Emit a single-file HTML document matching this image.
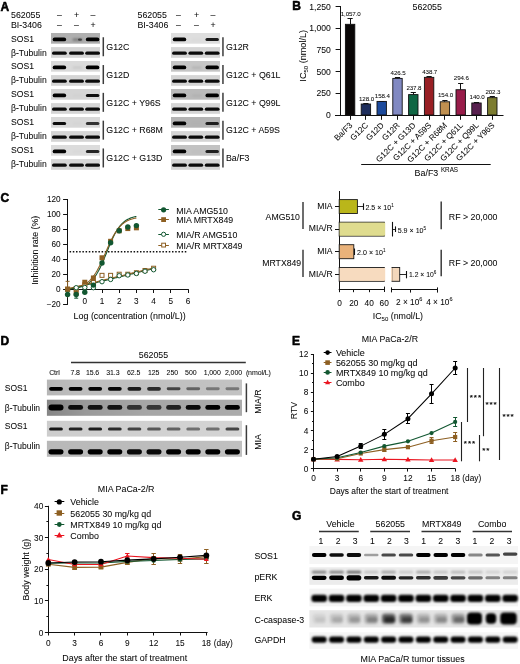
<!DOCTYPE html>
<html><head><meta charset="utf-8"><title>Figure</title>
<style>html,body{margin:0;padding:0;background:#fff;} svg{display:block;filter:blur(0.3px);} text{stroke:#080808;stroke-width:0.05px;stroke-linejoin:round;}</style>
</head><body>
<svg width="520" height="664" viewBox="0 0 520 664" font-family='"Liberation Sans", Arial, Helvetica, sans-serif'><defs><filter id="b1" x="-50%" y="-100%" width="200%" height="300%"><feGaussianBlur stdDeviation="0.1"/></filter><filter id="b2" x="-50%" y="-100%" width="200%" height="300%"><feGaussianBlur stdDeviation="0.2"/></filter><filter id="b3" x="-50%" y="-100%" width="200%" height="300%"><feGaussianBlur stdDeviation="0.3"/></filter><filter id="b4" x="-50%" y="-100%" width="200%" height="300%"><feGaussianBlur stdDeviation="0.4"/></filter><filter id="b5" x="-50%" y="-100%" width="200%" height="300%"><feGaussianBlur stdDeviation="0.5"/></filter><filter id="b6" x="-50%" y="-100%" width="200%" height="300%"><feGaussianBlur stdDeviation="0.6"/></filter><filter id="b7" x="-50%" y="-100%" width="200%" height="300%"><feGaussianBlur stdDeviation="0.7"/></filter><filter id="b8" x="-50%" y="-100%" width="200%" height="300%"><feGaussianBlur stdDeviation="0.8"/></filter><filter id="b9" x="-50%" y="-100%" width="200%" height="300%"><feGaussianBlur stdDeviation="0.9"/></filter><filter id="b10" x="-50%" y="-100%" width="200%" height="300%"><feGaussianBlur stdDeviation="1.0"/></filter><filter id="b11" x="-50%" y="-100%" width="200%" height="300%"><feGaussianBlur stdDeviation="1.1"/></filter><filter id="b12" x="-50%" y="-100%" width="200%" height="300%"><feGaussianBlur stdDeviation="1.2"/></filter><filter id="b13" x="-50%" y="-100%" width="200%" height="300%"><feGaussianBlur stdDeviation="1.3"/></filter><filter id="b14" x="-50%" y="-100%" width="200%" height="300%"><feGaussianBlur stdDeviation="1.4"/></filter><filter id="b15" x="-50%" y="-100%" width="200%" height="300%"><feGaussianBlur stdDeviation="1.5"/></filter><filter id="b16" x="-50%" y="-100%" width="200%" height="300%"><feGaussianBlur stdDeviation="1.6"/></filter><filter id="b17" x="-50%" y="-100%" width="200%" height="300%"><feGaussianBlur stdDeviation="1.7"/></filter><filter id="b18" x="-50%" y="-100%" width="200%" height="300%"><feGaussianBlur stdDeviation="1.8"/></filter><filter id="b19" x="-50%" y="-100%" width="200%" height="300%"><feGaussianBlur stdDeviation="1.9"/></filter><filter id="b20" x="-50%" y="-100%" width="200%" height="300%"><feGaussianBlur stdDeviation="2.0"/></filter><filter id="b21" x="-50%" y="-100%" width="200%" height="300%"><feGaussianBlur stdDeviation="2.1"/></filter><filter id="b22" x="-50%" y="-100%" width="200%" height="300%"><feGaussianBlur stdDeviation="2.2"/></filter><filter id="b23" x="-50%" y="-100%" width="200%" height="300%"><feGaussianBlur stdDeviation="2.3"/></filter><filter id="b24" x="-50%" y="-100%" width="200%" height="300%"><feGaussianBlur stdDeviation="2.4"/></filter><filter id="b25" x="-50%" y="-100%" width="200%" height="300%"><feGaussianBlur stdDeviation="2.5"/></filter><filter id="b26" x="-50%" y="-100%" width="200%" height="300%"><feGaussianBlur stdDeviation="2.6"/></filter><filter id="b27" x="-50%" y="-100%" width="200%" height="300%"><feGaussianBlur stdDeviation="2.7"/></filter><filter id="b28" x="-50%" y="-100%" width="200%" height="300%"><feGaussianBlur stdDeviation="2.8"/></filter><filter id="b29" x="-50%" y="-100%" width="200%" height="300%"><feGaussianBlur stdDeviation="2.9"/></filter><filter id="b30" x="-50%" y="-100%" width="200%" height="300%"><feGaussianBlur stdDeviation="3.0"/></filter></defs><text x="0.60" y="10.60" font-size="12" font-weight="bold" fill="#000" style="stroke:#000;stroke-width:0.55px">A</text>
<text x="11.00" y="17.50" font-size="8.8" fill="#080808">562055</text>
<text x="11.00" y="27.50" font-size="8.8" fill="#080808">BI-3406</text>
<text x="137.50" y="17.50" font-size="8.8" fill="#080808">562055</text>
<text x="137.50" y="27.50" font-size="8.8" fill="#080808">BI-3406</text>
<text x="59.40" y="17.60" font-size="8.8" text-anchor="middle" fill="#080808">–</text>
<text x="76.50" y="17.60" font-size="8.8" text-anchor="middle" fill="#080808">+</text>
<text x="93.00" y="17.60" font-size="8.8" text-anchor="middle" fill="#080808">–</text>
<text x="59.40" y="27.90" font-size="8.8" text-anchor="middle" fill="#080808">–</text>
<text x="76.50" y="27.90" font-size="8.8" text-anchor="middle" fill="#080808">–</text>
<text x="93.00" y="27.90" font-size="8.8" text-anchor="middle" fill="#080808">+</text>
<text x="178.50" y="17.60" font-size="8.8" text-anchor="middle" fill="#080808">–</text>
<text x="196.50" y="17.60" font-size="8.8" text-anchor="middle" fill="#080808">+</text>
<text x="213.00" y="17.60" font-size="8.8" text-anchor="middle" fill="#080808">–</text>
<text x="178.50" y="27.90" font-size="8.8" text-anchor="middle" fill="#080808">–</text>
<text x="196.50" y="27.90" font-size="8.8" text-anchor="middle" fill="#080808">–</text>
<text x="213.00" y="27.90" font-size="8.8" text-anchor="middle" fill="#080808">+</text>
<rect x="51.00" y="33.00" width="49.00" height="10.70" fill="#afafaf"/>
<rect x="51.00" y="47.10" width="49.00" height="10.70" fill="#d5d5d5"/>
<rect x="52.65" y="37.45" width="13.50" height="3.90" rx="1.95" fill="#000" fill-opacity="1.00" filter="url(#b6)"/>
<rect x="52.00" y="51.55" width="14.80" height="3.30" rx="1.65" fill="#000" fill-opacity="0.95" filter="url(#b6)"/>
<rect x="72.50" y="38.40" width="10.00" height="2.40" rx="1.20" fill="#000" fill-opacity="0.35" filter="url(#b8)"/>
<rect x="78.00" y="38.40" width="4.00" height="2.40" rx="1.20" fill="#000" fill-opacity="0.50" filter="url(#b7)"/>
<rect x="69.10" y="51.55" width="14.80" height="3.30" rx="1.65" fill="#000" fill-opacity="0.95" filter="url(#b6)"/>
<rect x="85.85" y="37.45" width="13.50" height="3.90" rx="1.95" fill="#000" fill-opacity="1.00" filter="url(#b6)"/>
<rect x="85.20" y="51.55" width="14.80" height="3.30" rx="1.65" fill="#000" fill-opacity="0.95" filter="url(#b6)"/>
<text x="11.00" y="41.50" font-size="8.6" fill="#080808">SOS1</text>
<text x="11.00" y="55.60" font-size="8.6" fill="#080808">β-Tubulin</text>
<line x1="103.30" y1="37.25" x2="103.30" y2="56.25" stroke="#3c3c3c" stroke-width="1.5"/>
<text x="106.30" y="50.00" font-size="8.8" fill="#080808">G12C</text>
<rect x="51.00" y="61.00" width="49.00" height="10.70" fill="#dadada"/>
<rect x="51.00" y="75.10" width="49.00" height="10.70" fill="#d5d5d5"/>
<rect x="52.65" y="65.45" width="13.50" height="3.90" rx="1.95" fill="#000" fill-opacity="1.00" filter="url(#b6)"/>
<rect x="52.00" y="79.55" width="14.80" height="3.30" rx="1.65" fill="#000" fill-opacity="0.95" filter="url(#b6)"/>
<rect x="72.50" y="66.40" width="10.00" height="2.40" rx="1.20" fill="#000" fill-opacity="0.08" filter="url(#b8)"/>
<rect x="69.10" y="79.55" width="14.80" height="3.30" rx="1.65" fill="#000" fill-opacity="0.95" filter="url(#b6)"/>
<rect x="85.85" y="65.45" width="13.50" height="3.90" rx="1.95" fill="#000" fill-opacity="1.00" filter="url(#b6)"/>
<rect x="85.20" y="79.55" width="14.80" height="3.30" rx="1.65" fill="#000" fill-opacity="0.95" filter="url(#b6)"/>
<text x="11.00" y="69.30" font-size="8.6" fill="#080808">SOS1</text>
<text x="11.00" y="83.40" font-size="8.6" fill="#080808">β-Tubulin</text>
<line x1="103.30" y1="65.05" x2="103.30" y2="84.05" stroke="#3c3c3c" stroke-width="1.5"/>
<text x="106.30" y="77.80" font-size="8.8" fill="#080808">G12D</text>
<rect x="51.00" y="89.00" width="49.00" height="10.70" fill="#d5d5d5"/>
<rect x="51.00" y="103.10" width="49.00" height="10.70" fill="#d5d5d5"/>
<rect x="52.65" y="93.45" width="13.50" height="3.90" rx="1.95" fill="#000" fill-opacity="0.99" filter="url(#b6)"/>
<rect x="52.00" y="107.55" width="14.80" height="3.30" rx="1.65" fill="#000" fill-opacity="0.95" filter="url(#b6)"/>
<rect x="72.50" y="94.40" width="10.00" height="2.40" rx="1.20" fill="#000" fill-opacity="0.02" filter="url(#b8)"/>
<rect x="69.10" y="107.55" width="14.80" height="3.30" rx="1.65" fill="#000" fill-opacity="0.95" filter="url(#b6)"/>
<rect x="85.85" y="93.90" width="13.50" height="3.00" rx="1.50" fill="#000" fill-opacity="0.94" filter="url(#b6)"/>
<rect x="85.20" y="107.55" width="14.80" height="3.30" rx="1.65" fill="#000" fill-opacity="0.95" filter="url(#b6)"/>
<text x="11.00" y="97.10" font-size="8.6" fill="#080808">SOS1</text>
<text x="11.00" y="111.20" font-size="8.6" fill="#080808">β-Tubulin</text>
<line x1="103.30" y1="92.85" x2="103.30" y2="111.85" stroke="#3c3c3c" stroke-width="1.5"/>
<text x="106.30" y="105.60" font-size="8.8" fill="#080808">G12C + Y96S</text>
<rect x="51.00" y="117.00" width="49.00" height="10.70" fill="#d8d8d8"/>
<rect x="51.00" y="131.10" width="49.00" height="10.70" fill="#d5d5d5"/>
<rect x="52.65" y="121.90" width="13.50" height="3.00" rx="1.50" fill="#000" fill-opacity="0.94" filter="url(#b6)"/>
<rect x="52.00" y="135.55" width="14.80" height="3.30" rx="1.65" fill="#000" fill-opacity="0.95" filter="url(#b6)"/>
<rect x="72.50" y="122.40" width="10.00" height="2.40" rx="1.20" fill="#000" fill-opacity="0.02" filter="url(#b8)"/>
<rect x="69.10" y="135.55" width="14.80" height="3.30" rx="1.65" fill="#000" fill-opacity="0.95" filter="url(#b6)"/>
<rect x="85.85" y="121.90" width="13.50" height="3.00" rx="1.50" fill="#000" fill-opacity="0.77" filter="url(#b6)"/>
<rect x="85.20" y="135.55" width="14.80" height="3.30" rx="1.65" fill="#000" fill-opacity="0.95" filter="url(#b6)"/>
<text x="11.00" y="124.90" font-size="8.6" fill="#080808">SOS1</text>
<text x="11.00" y="139.00" font-size="8.6" fill="#080808">β-Tubulin</text>
<line x1="103.30" y1="120.65" x2="103.30" y2="139.65" stroke="#3c3c3c" stroke-width="1.5"/>
<text x="106.30" y="133.40" font-size="8.8" fill="#080808">G12C + R68M</text>
<rect x="51.00" y="145.00" width="49.00" height="10.70" fill="#dcdcdc"/>
<rect x="51.00" y="159.10" width="49.00" height="10.70" fill="#d5d5d5"/>
<rect x="52.65" y="149.45" width="13.50" height="3.90" rx="1.95" fill="#000" fill-opacity="0.99" filter="url(#b6)"/>
<rect x="52.00" y="163.55" width="14.80" height="3.30" rx="1.65" fill="#000" fill-opacity="0.95" filter="url(#b6)"/>
<rect x="72.50" y="150.40" width="10.00" height="2.40" rx="1.20" fill="#000" fill-opacity="0.02" filter="url(#b8)"/>
<rect x="69.10" y="163.55" width="14.80" height="3.30" rx="1.65" fill="#000" fill-opacity="0.95" filter="url(#b6)"/>
<rect x="85.85" y="149.90" width="13.50" height="3.00" rx="1.50" fill="#000" fill-opacity="0.83" filter="url(#b6)"/>
<rect x="85.20" y="163.55" width="14.80" height="3.30" rx="1.65" fill="#000" fill-opacity="0.95" filter="url(#b6)"/>
<text x="11.00" y="152.70" font-size="8.6" fill="#080808">SOS1</text>
<text x="11.00" y="166.80" font-size="8.6" fill="#080808">β-Tubulin</text>
<line x1="103.30" y1="148.45" x2="103.30" y2="167.45" stroke="#3c3c3c" stroke-width="1.5"/>
<text x="106.30" y="161.20" font-size="8.8" fill="#080808">G12C + G13D</text>
<rect x="171.00" y="33.00" width="49.00" height="10.70" fill="#dedede"/>
<rect x="171.00" y="47.10" width="49.00" height="10.70" fill="#d5d5d5"/>
<rect x="172.75" y="37.45" width="13.50" height="3.90" rx="1.95" fill="#000" fill-opacity="0.99" filter="url(#b6)"/>
<rect x="172.10" y="51.55" width="14.80" height="3.30" rx="1.65" fill="#000" fill-opacity="0.95" filter="url(#b6)"/>
<rect x="191.80" y="38.40" width="10.00" height="2.40" rx="1.20" fill="#000" fill-opacity="0.02" filter="url(#b8)"/>
<rect x="188.40" y="51.55" width="14.80" height="3.30" rx="1.65" fill="#000" fill-opacity="0.95" filter="url(#b6)"/>
<rect x="205.45" y="37.90" width="13.50" height="3.00" rx="1.50" fill="#000" fill-opacity="0.88" filter="url(#b6)"/>
<rect x="204.80" y="51.55" width="14.80" height="3.30" rx="1.65" fill="#000" fill-opacity="0.95" filter="url(#b6)"/>
<line x1="222.95" y1="37.25" x2="222.95" y2="56.25" stroke="#3c3c3c" stroke-width="1.5"/>
<text x="225.95" y="50.00" font-size="8.8" fill="#080808">G12R</text>
<rect x="171.00" y="61.00" width="49.00" height="10.70" fill="#c6c6c6"/>
<rect x="171.00" y="75.10" width="49.00" height="10.70" fill="#d5d5d5"/>
<rect x="172.75" y="65.45" width="13.50" height="3.90" rx="1.95" fill="#000" fill-opacity="1.00" filter="url(#b6)"/>
<rect x="172.10" y="79.55" width="14.80" height="3.30" rx="1.65" fill="#000" fill-opacity="0.95" filter="url(#b6)"/>
<rect x="191.80" y="66.40" width="10.00" height="2.40" rx="1.20" fill="#000" fill-opacity="0.10" filter="url(#b8)"/>
<rect x="188.40" y="79.55" width="14.80" height="3.30" rx="1.65" fill="#000" fill-opacity="0.95" filter="url(#b6)"/>
<rect x="205.45" y="65.45" width="13.50" height="3.90" rx="1.95" fill="#000" fill-opacity="0.99" filter="url(#b6)"/>
<rect x="204.80" y="79.55" width="14.80" height="3.30" rx="1.65" fill="#000" fill-opacity="0.95" filter="url(#b6)"/>
<line x1="222.95" y1="65.05" x2="222.95" y2="84.05" stroke="#3c3c3c" stroke-width="1.5"/>
<text x="225.95" y="77.80" font-size="8.8" fill="#080808">G12C + Q61L</text>
<rect x="171.00" y="89.00" width="49.00" height="10.70" fill="#bababa"/>
<rect x="171.00" y="103.10" width="49.00" height="10.70" fill="#d5d5d5"/>
<rect x="172.75" y="93.45" width="13.50" height="3.90" rx="1.95" fill="#000" fill-opacity="1.00" filter="url(#b6)"/>
<rect x="172.10" y="107.55" width="14.80" height="3.30" rx="1.65" fill="#000" fill-opacity="0.95" filter="url(#b6)"/>
<rect x="191.80" y="94.40" width="10.00" height="2.40" rx="1.20" fill="#000" fill-opacity="0.06" filter="url(#b8)"/>
<rect x="188.40" y="107.55" width="14.80" height="3.30" rx="1.65" fill="#000" fill-opacity="0.95" filter="url(#b6)"/>
<rect x="205.45" y="93.45" width="13.50" height="3.90" rx="1.95" fill="#000" fill-opacity="1.00" filter="url(#b6)"/>
<rect x="204.80" y="107.55" width="14.80" height="3.30" rx="1.65" fill="#000" fill-opacity="0.95" filter="url(#b6)"/>
<line x1="222.95" y1="92.85" x2="222.95" y2="111.85" stroke="#3c3c3c" stroke-width="1.5"/>
<text x="225.95" y="105.60" font-size="8.8" fill="#080808">G12C + Q99L</text>
<rect x="171.00" y="117.00" width="49.00" height="10.70" fill="#b3b3b3"/>
<rect x="171.00" y="131.10" width="49.00" height="10.70" fill="#d5d5d5"/>
<rect x="172.75" y="121.45" width="13.50" height="3.90" rx="1.95" fill="#000" fill-opacity="0.99" filter="url(#b6)"/>
<rect x="172.10" y="135.55" width="14.80" height="3.30" rx="1.65" fill="#000" fill-opacity="0.95" filter="url(#b6)"/>
<rect x="191.80" y="122.40" width="10.00" height="2.40" rx="1.20" fill="#000" fill-opacity="0.02" filter="url(#b8)"/>
<rect x="188.40" y="135.55" width="14.80" height="3.30" rx="1.65" fill="#000" fill-opacity="0.95" filter="url(#b6)"/>
<rect x="205.45" y="121.90" width="13.50" height="3.00" rx="1.50" fill="#000" fill-opacity="0.83" filter="url(#b6)"/>
<rect x="204.80" y="135.55" width="14.80" height="3.30" rx="1.65" fill="#000" fill-opacity="0.95" filter="url(#b6)"/>
<line x1="222.95" y1="120.65" x2="222.95" y2="139.65" stroke="#3c3c3c" stroke-width="1.5"/>
<text x="225.95" y="133.40" font-size="8.8" fill="#080808">G12C + A59S</text>
<rect x="171.00" y="145.00" width="49.00" height="10.70" fill="#c2c2c2"/>
<rect x="171.00" y="159.10" width="49.00" height="10.70" fill="#d5d5d5"/>
<rect x="172.75" y="149.45" width="13.50" height="3.90" rx="1.95" fill="#000" fill-opacity="0.99" filter="url(#b6)"/>
<rect x="172.10" y="163.55" width="14.80" height="3.30" rx="1.65" fill="#000" fill-opacity="0.95" filter="url(#b6)"/>
<rect x="191.80" y="150.40" width="10.00" height="2.40" rx="1.20" fill="#000" fill-opacity="0.02" filter="url(#b8)"/>
<rect x="188.40" y="163.55" width="14.80" height="3.30" rx="1.65" fill="#000" fill-opacity="0.95" filter="url(#b6)"/>
<rect x="205.45" y="149.90" width="13.50" height="3.00" rx="1.50" fill="#000" fill-opacity="0.83" filter="url(#b6)"/>
<rect x="204.80" y="163.55" width="14.80" height="3.30" rx="1.65" fill="#000" fill-opacity="0.95" filter="url(#b6)"/>
<line x1="222.95" y1="148.45" x2="222.95" y2="167.45" stroke="#3c3c3c" stroke-width="1.5"/>
<text x="225.95" y="161.20" font-size="8.8" fill="#080808">Ba/F3</text>
<text x="292.20" y="10.25" font-size="12" font-weight="bold" fill="#000" style="stroke:#000;stroke-width:0.55px">B</text>
<text x="412.50" y="10.00" font-size="8.8" fill="#080808">562055</text>
<line x1="340.50" y1="6.00" x2="340.50" y2="115.50" stroke="#111" stroke-width="1"/>
<line x1="335.60" y1="115.50" x2="340.00" y2="115.50" stroke="#111" stroke-width="1"/>
<text x="330.80" y="118.00" font-size="8.6" text-anchor="end" fill="#080808">0</text>
<line x1="335.60" y1="93.50" x2="340.00" y2="93.50" stroke="#111" stroke-width="1"/>
<text x="330.80" y="96.30" font-size="8.6" text-anchor="end" fill="#080808">250</text>
<line x1="335.60" y1="71.50" x2="340.00" y2="71.50" stroke="#111" stroke-width="1"/>
<text x="330.80" y="74.60" font-size="8.6" text-anchor="end" fill="#080808">500</text>
<line x1="335.60" y1="49.50" x2="340.00" y2="49.50" stroke="#111" stroke-width="1"/>
<text x="330.80" y="52.90" font-size="8.6" text-anchor="end" fill="#080808">750</text>
<line x1="335.60" y1="28.50" x2="340.00" y2="28.50" stroke="#111" stroke-width="1"/>
<text x="330.80" y="31.20" font-size="8.6" text-anchor="end" fill="#080808">1,000</text>
<line x1="335.60" y1="6.50" x2="340.00" y2="6.50" stroke="#111" stroke-width="1"/>
<text x="330.80" y="9.50" font-size="8.6" text-anchor="end" fill="#080808">1,250</text>
<text transform="translate(305.9,55.8) rotate(-90)" font-size="9.1" text-anchor="middle" fill="#080808">IC<tspan font-size="6" dy="2">50</tspan><tspan dy="-2"> (nmol/L)</tspan></text>
<line x1="335.00" y1="115.50" x2="503.50" y2="115.50" stroke="#111" stroke-width="1"/>
<line x1="350.50" y1="24.31" x2="350.50" y2="18.65" stroke="#111" stroke-width="1"/>
<line x1="347.50" y1="18.50" x2="352.70" y2="18.50" stroke="#111" stroke-width="1"/>
<rect x="345.40" y="24.31" width="9.40" height="90.69" fill="#0a0707" stroke="#111" stroke-width="0.9"/>
<line x1="350.50" y1="115.00" x2="350.50" y2="119.80" stroke="#111" stroke-width="1"/>
<text x="350.70" y="15.65" font-size="6.2" text-anchor="middle" fill="#080808" letter-spacing="-0.1">1,057.0</text>
<text transform="translate(352.90,125.8) rotate(-45)" font-size="8.2" text-anchor="end" fill="#080808">Ba/F3</text>
<line x1="365.50" y1="104.02" x2="365.50" y2="103.76" stroke="#111" stroke-width="1"/>
<line x1="363.30" y1="103.50" x2="368.50" y2="103.50" stroke="#111" stroke-width="1"/>
<rect x="361.20" y="104.02" width="9.40" height="10.98" fill="#1e2e5c" stroke="#111" stroke-width="0.9"/>
<line x1="365.50" y1="115.00" x2="365.50" y2="119.80" stroke="#111" stroke-width="1"/>
<text x="366.50" y="100.76" font-size="6.2" text-anchor="middle" fill="#080808" letter-spacing="-0.1">128.0</text>
<text transform="translate(368.70,125.8) rotate(-45)" font-size="8.2" text-anchor="end" fill="#080808">G12C</text>
<line x1="381.50" y1="101.41" x2="381.50" y2="101.07" stroke="#111" stroke-width="1"/>
<line x1="379.10" y1="101.50" x2="384.30" y2="101.50" stroke="#111" stroke-width="1"/>
<rect x="377.00" y="101.41" width="9.40" height="13.59" fill="#1c4a9c" stroke="#111" stroke-width="0.9"/>
<line x1="381.50" y1="115.00" x2="381.50" y2="119.80" stroke="#111" stroke-width="1"/>
<text x="382.30" y="98.07" font-size="6.2" text-anchor="middle" fill="#080808" letter-spacing="-0.1">158.4</text>
<text transform="translate(384.50,125.8) rotate(-45)" font-size="8.2" text-anchor="end" fill="#080808">G12D</text>
<line x1="397.50" y1="78.41" x2="397.50" y2="77.89" stroke="#111" stroke-width="1"/>
<line x1="394.90" y1="77.50" x2="400.10" y2="77.50" stroke="#111" stroke-width="1"/>
<rect x="392.80" y="78.41" width="9.40" height="36.59" fill="#8189c2" stroke="#111" stroke-width="0.9"/>
<line x1="397.50" y1="115.00" x2="397.50" y2="119.80" stroke="#111" stroke-width="1"/>
<text x="398.10" y="74.89" font-size="6.2" text-anchor="middle" fill="#080808" letter-spacing="-0.1">426.5</text>
<text transform="translate(400.30,125.8) rotate(-45)" font-size="8.2" text-anchor="end" fill="#080808">G12R</text>
<line x1="413.50" y1="94.60" x2="413.50" y2="92.62" stroke="#111" stroke-width="1"/>
<line x1="410.70" y1="92.50" x2="415.90" y2="92.50" stroke="#111" stroke-width="1"/>
<rect x="408.60" y="94.60" width="9.40" height="20.40" fill="#106644" stroke="#111" stroke-width="0.9"/>
<line x1="413.50" y1="115.00" x2="413.50" y2="119.80" stroke="#111" stroke-width="1"/>
<text x="413.90" y="89.62" font-size="6.2" text-anchor="middle" fill="#080808" letter-spacing="-0.1">237.8</text>
<text transform="translate(416.10,125.8) rotate(-45)" font-size="8.2" text-anchor="end" fill="#080808">G12C + G13D</text>
<line x1="429.50" y1="77.36" x2="429.50" y2="76.67" stroke="#111" stroke-width="1"/>
<line x1="426.50" y1="76.50" x2="431.70" y2="76.50" stroke="#111" stroke-width="1"/>
<rect x="424.40" y="77.36" width="9.40" height="37.64" fill="#981f24" stroke="#111" stroke-width="0.9"/>
<line x1="429.50" y1="115.00" x2="429.50" y2="119.80" stroke="#111" stroke-width="1"/>
<text x="429.70" y="73.67" font-size="6.2" text-anchor="middle" fill="#080808" letter-spacing="-0.1">438.7</text>
<text transform="translate(431.90,125.8) rotate(-45)" font-size="8.2" text-anchor="end" fill="#080808">G12C + A59S</text>
<line x1="444.50" y1="101.79" x2="444.50" y2="100.46" stroke="#111" stroke-width="1"/>
<line x1="442.30" y1="100.50" x2="447.50" y2="100.50" stroke="#111" stroke-width="1"/>
<rect x="440.20" y="101.79" width="9.40" height="13.21" fill="#c09050" stroke="#111" stroke-width="0.9"/>
<line x1="444.50" y1="115.00" x2="444.50" y2="119.80" stroke="#111" stroke-width="1"/>
<text x="445.50" y="97.46" font-size="6.2" text-anchor="middle" fill="#080808" letter-spacing="-0.1">154.0</text>
<text transform="translate(447.70,125.8) rotate(-45)" font-size="8.2" text-anchor="end" fill="#080808">G12C + R68M</text>
<line x1="460.50" y1="89.72" x2="460.50" y2="83.37" stroke="#111" stroke-width="1"/>
<line x1="458.10" y1="83.50" x2="463.30" y2="83.50" stroke="#111" stroke-width="1"/>
<rect x="456.00" y="89.72" width="9.40" height="25.28" fill="#981c4a" stroke="#111" stroke-width="0.9"/>
<line x1="460.50" y1="115.00" x2="460.50" y2="119.80" stroke="#111" stroke-width="1"/>
<text x="461.30" y="80.37" font-size="6.2" text-anchor="middle" fill="#080808" letter-spacing="-0.1">294.6</text>
<text transform="translate(463.50,125.8) rotate(-45)" font-size="8.2" text-anchor="end" fill="#080808">G12C + Q61L</text>
<line x1="476.50" y1="102.99" x2="476.50" y2="102.22" stroke="#111" stroke-width="1"/>
<line x1="473.90" y1="102.50" x2="479.10" y2="102.50" stroke="#111" stroke-width="1"/>
<rect x="471.80" y="102.99" width="9.40" height="12.01" fill="#58204f" stroke="#111" stroke-width="0.9"/>
<line x1="476.50" y1="115.00" x2="476.50" y2="119.80" stroke="#111" stroke-width="1"/>
<text x="477.10" y="99.22" font-size="6.2" text-anchor="middle" fill="#080808" letter-spacing="-0.1">140.0</text>
<text transform="translate(479.30,125.8) rotate(-45)" font-size="8.2" text-anchor="end" fill="#080808">G12C + Q99L</text>
<line x1="492.50" y1="97.64" x2="492.50" y2="96.78" stroke="#111" stroke-width="1"/>
<line x1="489.70" y1="96.50" x2="494.90" y2="96.50" stroke="#111" stroke-width="1"/>
<rect x="487.60" y="97.64" width="9.40" height="17.36" fill="#7c7c30" stroke="#111" stroke-width="0.9"/>
<line x1="492.50" y1="115.00" x2="492.50" y2="119.80" stroke="#111" stroke-width="1"/>
<text x="492.90" y="93.78" font-size="6.2" text-anchor="middle" fill="#080808" letter-spacing="-0.1">202.3</text>
<text transform="translate(495.10,125.8) rotate(-45)" font-size="8.2" text-anchor="end" fill="#080808">G12C + Y96S</text>
<line x1="361.20" y1="164.50" x2="490.70" y2="164.50" stroke="#111" stroke-width="1"/>
<text x="414.60" y="176.00" font-size="8.9" fill="#080808">Ba/F3</text>
<text x="440.90" y="172.30" font-size="6.3" fill="#080808">KRAS</text>
<text x="0.60" y="201.90" font-size="12" font-weight="bold" fill="#000" style="stroke:#000;stroke-width:0.55px">C</text>
<line x1="67.50" y1="199.00" x2="67.50" y2="304.50" stroke="#111" stroke-width="1"/>
<line x1="63.10" y1="304.50" x2="67.90" y2="304.50" stroke="#111" stroke-width="1"/>
<text x="60.60" y="307.07" font-size="8.2" text-anchor="end" fill="#080808">−20</text>
<line x1="63.10" y1="289.50" x2="67.90" y2="289.50" stroke="#111" stroke-width="1"/>
<text x="60.60" y="292.10" font-size="8.2" text-anchor="end" fill="#080808">0</text>
<line x1="63.10" y1="274.50" x2="67.90" y2="274.50" stroke="#111" stroke-width="1"/>
<text x="60.60" y="277.13" font-size="8.2" text-anchor="end" fill="#080808">20</text>
<line x1="63.10" y1="259.50" x2="67.90" y2="259.50" stroke="#111" stroke-width="1"/>
<text x="60.60" y="262.16" font-size="8.2" text-anchor="end" fill="#080808">40</text>
<line x1="63.10" y1="244.50" x2="67.90" y2="244.50" stroke="#111" stroke-width="1"/>
<text x="60.60" y="247.19" font-size="8.2" text-anchor="end" fill="#080808">60</text>
<line x1="63.10" y1="229.50" x2="67.90" y2="229.50" stroke="#111" stroke-width="1"/>
<text x="60.60" y="232.22" font-size="8.2" text-anchor="end" fill="#080808">80</text>
<line x1="63.10" y1="214.50" x2="67.90" y2="214.50" stroke="#111" stroke-width="1"/>
<text x="60.60" y="217.25" font-size="8.2" text-anchor="end" fill="#080808">100</text>
<line x1="63.10" y1="199.50" x2="67.90" y2="199.50" stroke="#111" stroke-width="1"/>
<text x="60.60" y="202.28" font-size="8.2" text-anchor="end" fill="#080808">120</text>
<line x1="67.90" y1="289.50" x2="188.50" y2="289.50" stroke="#111" stroke-width="1"/>
<line x1="84.50" y1="289.20" x2="84.50" y2="293.00" stroke="#111" stroke-width="1"/>
<text x="84.80" y="303.80" font-size="8.2" text-anchor="middle" fill="#080808">0</text>
<line x1="102.50" y1="289.20" x2="102.50" y2="293.00" stroke="#111" stroke-width="1"/>
<text x="102.00" y="303.80" font-size="8.2" text-anchor="middle" fill="#080808">1</text>
<line x1="119.50" y1="289.20" x2="119.50" y2="293.00" stroke="#111" stroke-width="1"/>
<text x="119.20" y="303.80" font-size="8.2" text-anchor="middle" fill="#080808">2</text>
<line x1="136.50" y1="289.20" x2="136.50" y2="293.00" stroke="#111" stroke-width="1"/>
<text x="136.40" y="303.80" font-size="8.2" text-anchor="middle" fill="#080808">3</text>
<line x1="153.50" y1="289.20" x2="153.50" y2="293.00" stroke="#111" stroke-width="1"/>
<text x="153.60" y="303.80" font-size="8.2" text-anchor="middle" fill="#080808">4</text>
<line x1="170.50" y1="289.20" x2="170.50" y2="293.00" stroke="#111" stroke-width="1"/>
<text x="170.80" y="303.80" font-size="8.2" text-anchor="middle" fill="#080808">5</text>
<line x1="188.50" y1="289.20" x2="188.50" y2="293.00" stroke="#111" stroke-width="1"/>
<text x="188.00" y="303.80" font-size="8.2" text-anchor="middle" fill="#080808">6</text>
<text transform="translate(38.2,250.3) rotate(-90)" font-size="8.8" text-anchor="middle" fill="#080808">Inhibition rate (%)</text>
<text x="73.50" y="318.60" font-size="8.95" fill="#080808">Log (concentration (nmol/L))</text>
<line x1="69.6" y1="251.8" x2="187.0" y2="251.8" stroke="#111" stroke-width="1.4" stroke-dasharray="1.5,1.7"/>
<polyline points="67.60,288.81 68.46,288.77 69.32,288.71 70.18,288.65 71.04,288.59 71.90,288.51 72.76,288.43 73.62,288.34 74.48,288.24 75.34,288.12 76.20,287.99 77.06,287.85 77.92,287.68 78.78,287.50 79.64,287.30 80.50,287.08 81.36,286.82 82.22,286.55 83.08,286.23 83.94,285.89 84.80,285.51 85.66,285.08 86.52,284.61 87.38,284.09 88.24,283.51 89.10,282.87 89.96,282.18 90.82,281.41 91.68,280.57 92.54,279.65 93.40,278.65 94.26,277.57 95.12,276.39 95.98,275.13 96.84,273.77 97.70,272.31 98.56,270.77 99.42,269.13 100.28,267.40 101.14,265.59 102.00,263.70 102.86,261.74 103.72,259.72 104.58,257.65 105.44,255.55 106.30,253.43 107.16,251.30 108.02,249.17 108.88,247.06 109.74,244.99 110.60,242.96 111.46,240.99 112.32,239.09 113.18,237.26 114.04,235.51 114.90,233.85 115.76,232.29 116.62,230.81 117.48,229.44 118.34,228.15 119.20,226.96 120.06,225.86 120.92,224.84 121.78,223.91 122.64,223.05 123.50,222.27 124.36,221.56 125.22,220.91 126.08,220.32 126.94,219.79 127.80,219.31 128.66,218.88 129.52,218.48 130.38,218.13 131.24,217.81 132.10,217.53 132.96,217.27 133.82,217.04 134.68,216.83 135.54,216.65 136.40,216.48" fill="none" stroke="#125731" stroke-width="1.1" stroke-linejoin="round"/>
<polyline points="67.60,288.61 68.46,288.55 69.32,288.47 70.18,288.39 71.04,288.30 71.90,288.19 72.76,288.08 73.62,287.95 74.48,287.81 75.34,287.65 76.20,287.48 77.06,287.29 77.92,287.07 78.78,286.83 79.64,286.57 80.50,286.28 81.36,285.96 82.22,285.60 83.08,285.21 83.94,284.77 84.80,284.30 85.66,283.77 86.52,283.20 87.38,282.56 88.24,281.88 89.10,281.12 89.96,280.30 90.82,279.41 91.68,278.45 92.54,277.41 93.40,276.29 94.26,275.09 95.12,273.80 95.98,272.43 96.84,270.98 97.70,269.45 98.56,267.84 99.42,266.15 100.28,264.40 101.14,262.58 102.00,260.71 102.86,258.80 103.72,256.85 104.58,254.88 105.44,252.90 106.30,250.91 107.16,248.94 108.02,246.99 108.88,245.08 109.74,243.21 110.60,241.40 111.46,239.64 112.32,237.96 113.18,236.35 114.04,234.81 114.90,233.36 115.76,231.99 116.62,230.71 117.48,229.51 118.34,228.39 119.20,227.34 120.06,226.38 120.92,225.49 121.78,224.67 122.64,223.92 123.50,223.23 124.36,222.60 125.22,222.02 126.08,221.50 126.94,221.02 127.80,220.59 128.66,220.20 129.52,219.84 130.38,219.52 131.24,219.23 132.10,218.96 132.96,218.72 133.82,218.51 134.68,218.32 135.54,218.14 136.40,217.98" fill="none" stroke="#8d5f22" stroke-width="1.1" stroke-linejoin="round"/>
<polyline points="67.60,289.57 68.46,289.36 69.32,289.16 70.18,288.95 71.04,288.74 71.90,288.53 72.76,288.32 73.62,288.11 74.48,287.90 75.34,287.69 76.20,287.48 77.06,287.27 77.92,287.06 78.78,286.85 79.64,286.64 80.50,286.43 81.36,286.22 82.22,286.01 83.08,285.80 83.94,285.59 84.80,285.38 85.66,285.17 86.52,284.96 87.38,284.75 88.24,284.54 89.10,284.33 89.96,284.13 90.82,283.92 91.68,283.71 92.54,283.50 93.40,283.29 94.26,283.08 95.12,282.87 95.98,282.66 96.84,282.45 97.70,282.24 98.56,282.03 99.42,281.82 100.28,281.61 101.14,281.40 102.00,281.19 102.86,280.98 103.72,280.77 104.58,280.56 105.44,280.35 106.30,280.14 107.16,279.93 108.02,279.72 108.88,279.51 109.74,279.30 110.60,279.10 111.46,278.89 112.32,278.68 113.18,278.47 114.04,278.26 114.90,278.05 115.76,277.84 116.62,277.63 117.48,277.42 118.34,277.21 119.20,277.00 120.06,276.79 120.92,276.58 121.78,276.37 122.64,276.16 123.50,275.95 124.36,275.74 125.22,275.53 126.08,275.32 126.94,275.11 127.80,274.90 128.66,274.69 129.52,274.48 130.38,274.27 131.24,274.07 132.10,273.86 132.96,273.65 133.82,273.44 134.68,273.23 135.54,273.02 136.40,272.81 137.26,272.60 138.12,272.39 138.98,272.18 139.84,271.97 140.70,271.76 141.56,271.55 142.42,271.34 143.28,271.13 144.14,270.92 145.00,270.71 145.86,270.50 146.72,270.29 147.58,270.08 148.44,269.87 149.30,269.66 150.16,269.45 151.02,269.24 151.88,269.04 152.74,268.83 153.60,268.62" fill="none" stroke="#125731" stroke-width="1.1" stroke-linejoin="round"/>
<polyline points="67.60,288.83 68.46,288.62 69.32,288.41 70.18,288.20 71.04,287.99 71.90,287.78 72.76,287.57 73.62,287.36 74.48,287.15 75.34,286.94 76.20,286.73 77.06,286.52 77.92,286.31 78.78,286.10 79.64,285.89 80.50,285.68 81.36,285.47 82.22,285.26 83.08,285.05 83.94,284.84 84.80,284.63 85.66,284.42 86.52,284.21 87.38,284.01 88.24,283.80 89.10,283.59 89.96,283.38 90.82,283.17 91.68,282.96 92.54,282.75 93.40,282.54 94.26,282.33 95.12,282.12 95.98,281.91 96.84,281.70 97.70,281.49 98.56,281.28 99.42,281.07 100.28,280.86 101.14,280.65 102.00,280.44 102.86,280.23 103.72,280.02 104.58,279.81 105.44,279.60 106.30,279.39 107.16,279.19 108.02,278.98 108.88,278.77 109.74,278.56 110.60,278.35 111.46,278.14 112.32,277.93 113.18,277.72 114.04,277.51 114.90,277.30 115.76,277.09 116.62,276.88 117.48,276.67 118.34,276.46 119.20,276.25 120.06,276.04 120.92,275.83 121.78,275.62 122.64,275.41 123.50,275.20 124.36,274.99 125.22,274.78 126.08,274.57 126.94,274.36 127.80,274.16 128.66,273.95 129.52,273.74 130.38,273.53 131.24,273.32 132.10,273.11 132.96,272.90 133.82,272.69 134.68,272.48 135.54,272.27 136.40,272.06 137.26,271.85 138.12,271.64 138.98,271.43 139.84,271.22 140.70,271.01 141.56,270.80 142.42,270.59 143.28,270.38 144.14,270.17 145.00,269.96 145.86,269.75 146.72,269.54 147.58,269.33 148.44,269.13 149.30,268.92 150.16,268.71 151.02,268.50 151.88,268.29 152.74,268.08 153.60,267.87" fill="none" stroke="#8d5f22" stroke-width="1.1" stroke-linejoin="round"/>
<rect x="65.60" y="287.20" width="4.00" height="4.00" fill="#fff" stroke="#8d5f22" stroke-width="1"/>
<rect x="74.20" y="286.83" width="4.00" height="4.00" fill="#fff" stroke="#8d5f22" stroke-width="1"/>
<rect x="82.80" y="282.71" width="4.00" height="4.00" fill="#fff" stroke="#8d5f22" stroke-width="1"/>
<rect x="91.40" y="280.46" width="4.00" height="4.00" fill="#fff" stroke="#8d5f22" stroke-width="1"/>
<rect x="100.00" y="273.35" width="4.00" height="4.00" fill="#fff" stroke="#8d5f22" stroke-width="1"/>
<rect x="108.60" y="273.35" width="4.00" height="4.00" fill="#fff" stroke="#8d5f22" stroke-width="1"/>
<rect x="117.20" y="272.23" width="4.00" height="4.00" fill="#fff" stroke="#8d5f22" stroke-width="1"/>
<rect x="125.80" y="272.23" width="4.00" height="4.00" fill="#fff" stroke="#8d5f22" stroke-width="1"/>
<rect x="134.40" y="270.73" width="4.00" height="4.00" fill="#fff" stroke="#8d5f22" stroke-width="1"/>
<rect x="143.00" y="268.49" width="4.00" height="4.00" fill="#fff" stroke="#8d5f22" stroke-width="1"/>
<rect x="151.60" y="266.24" width="4.00" height="4.00" fill="#fff" stroke="#8d5f22" stroke-width="1"/>
<circle cx="67.60" cy="289.95" r="2.20" fill="#fff" stroke="#125731" stroke-width="1"/>
<circle cx="76.20" cy="287.70" r="2.20" fill="#fff" stroke="#125731" stroke-width="1"/>
<circle cx="84.80" cy="287.48" r="2.20" fill="#fff" stroke="#125731" stroke-width="1"/>
<circle cx="93.40" cy="287.70" r="2.20" fill="#fff" stroke="#125731" stroke-width="1"/>
<circle cx="102.00" cy="281.71" r="2.20" fill="#fff" stroke="#125731" stroke-width="1"/>
<circle cx="110.60" cy="279.47" r="2.20" fill="#fff" stroke="#125731" stroke-width="1"/>
<circle cx="119.20" cy="275.73" r="2.20" fill="#fff" stroke="#125731" stroke-width="1"/>
<circle cx="127.80" cy="274.98" r="2.20" fill="#fff" stroke="#125731" stroke-width="1"/>
<circle cx="136.40" cy="273.48" r="2.20" fill="#fff" stroke="#125731" stroke-width="1"/>
<circle cx="145.00" cy="271.24" r="2.20" fill="#fff" stroke="#125731" stroke-width="1"/>
<circle cx="153.60" cy="269.74" r="2.20" fill="#fff" stroke="#125731" stroke-width="1"/>
<line x1="67.60" y1="297.43" x2="67.60" y2="281.34" stroke="#8d5f22" stroke-width="1.0"/>
<line x1="65.60" y1="281.34" x2="69.60" y2="281.34" stroke="#8d5f22" stroke-width="1.0"/>
<line x1="76.20" y1="298.18" x2="76.20" y2="290.70" stroke="#125731" stroke-width="1.0"/>
<line x1="74.20" y1="298.18" x2="78.20" y2="298.18" stroke="#125731" stroke-width="1.0"/>
<rect x="65.10" y="286.70" width="5.00" height="5.00" fill="#8d5f22"/>
<rect x="73.70" y="290.44" width="5.00" height="5.00" fill="#8d5f22"/>
<rect x="82.30" y="279.74" width="5.00" height="5.00" fill="#8d5f22"/>
<rect x="90.90" y="275.47" width="5.00" height="5.00" fill="#8d5f22"/>
<rect x="99.50" y="255.26" width="5.00" height="5.00" fill="#8d5f22"/>
<rect x="108.10" y="238.80" width="5.00" height="5.00" fill="#8d5f22"/>
<rect x="116.70" y="228.32" width="5.00" height="5.00" fill="#8d5f22"/>
<rect x="125.30" y="226.07" width="5.00" height="5.00" fill="#8d5f22"/>
<rect x="133.90" y="225.32" width="5.00" height="5.00" fill="#8d5f22"/>
<circle cx="67.60" cy="294.44" r="2.70" fill="#125731"/>
<circle cx="76.20" cy="294.44" r="2.70" fill="#125731"/>
<circle cx="84.80" cy="292.19" r="2.70" fill="#125731"/>
<circle cx="93.40" cy="285.08" r="2.70" fill="#125731"/>
<circle cx="102.00" cy="263.00" r="2.70" fill="#125731"/>
<circle cx="110.60" cy="242.79" r="2.70" fill="#125731"/>
<circle cx="119.20" cy="230.82" r="2.70" fill="#125731"/>
<circle cx="127.80" cy="227.07" r="2.70" fill="#125731"/>
<circle cx="136.40" cy="225.58" r="2.70" fill="#125731"/>
<line x1="158.30" y1="209.50" x2="168.90" y2="209.50" stroke="#125731" stroke-width="1"/>
<circle cx="163.60" cy="209.80" r="2.60" fill="#125731"/>
<text x="176.20" y="213.50" font-size="8.8" fill="#080808">MIA AMG510</text>
<line x1="158.30" y1="219.50" x2="168.90" y2="219.50" stroke="#8d5f22" stroke-width="1"/>
<rect x="161.20" y="217.20" width="4.80" height="4.80" fill="#8d5f22"/>
<text x="176.20" y="223.00" font-size="8.8" fill="#080808">MIA MRTX849</text>
<line x1="158.30" y1="234.50" x2="168.90" y2="234.50" stroke="#125731" stroke-width="1"/>
<circle cx="163.60" cy="234.30" r="2.10" fill="#fff" stroke="#125731" stroke-width="1"/>
<text x="176.20" y="237.90" font-size="8.8" fill="#080808">MIA/R AMG510</text>
<line x1="158.30" y1="245.50" x2="168.90" y2="245.50" stroke="#8d5f22" stroke-width="1"/>
<rect x="161.70" y="243.20" width="3.80" height="3.80" fill="#fff" stroke="#8d5f22" stroke-width="1"/>
<text x="176.20" y="248.50" font-size="8.8" fill="#080808">MIA/R MRTX849</text>
<line x1="339.50" y1="191.00" x2="339.50" y2="289.70" stroke="#111" stroke-width="1"/>
<rect x="339.20" y="199.60" width="18.20" height="13.90" fill="#bab61a" stroke="#1a1a1a" stroke-width="0.9"/>
<line x1="357.40" y1="206.50" x2="363.10" y2="206.50" stroke="#111" stroke-width="0.9"/>
<line x1="363.50" y1="203.30" x2="363.50" y2="209.90" stroke="#111" stroke-width="1.1"/>
<rect x="339.20" y="222.20" width="45.10" height="13.90" fill="#dcda8a" stroke="#1a1a1a" stroke-width="0.9"/>
<rect x="339.70" y="222.7" width="45.5" height="12.9" fill="#dfdc8f"/>
<line x1="392.50" y1="221.90" x2="392.50" y2="236.50" stroke="#111" stroke-width="1.1"/>
<line x1="392.00" y1="229.50" x2="395.40" y2="229.50" stroke="#111" stroke-width="0.9"/>
<line x1="395.50" y1="226.40" x2="395.50" y2="232.00" stroke="#111" stroke-width="1.1"/>
<rect x="339.20" y="244.70" width="14.60" height="14.00" fill="#e9b27a" stroke="#1a1a1a" stroke-width="0.9"/>
<line x1="354.50" y1="248.50" x2="354.50" y2="255.00" stroke="#111" stroke-width="1.1"/>
<rect x="339.20" y="267.50" width="45.10" height="13.80" fill="#f3d7bb" stroke="#1a1a1a" stroke-width="0.9"/>
<rect x="339.70" y="268.0" width="45.5" height="12.8" fill="#f7dbbf"/>
<rect x="392.00" y="267.50" width="7.70" height="13.80" fill="#f3d7bb" stroke="#1a1a1a" stroke-width="0.9"/>
<rect x="391.0" y="268.0" width="1.5" height="12.8" fill="#f7dbbf"/>
<line x1="399.70" y1="274.50" x2="406.30" y2="274.50" stroke="#111" stroke-width="0.9"/>
<line x1="406.50" y1="271.00" x2="406.50" y2="278.30" stroke="#111" stroke-width="1.1"/>
<line x1="335.00" y1="206.50" x2="339.20" y2="206.50" stroke="#111" stroke-width="1"/>
<text x="332.60" y="209.10" font-size="8.6" text-anchor="end" fill="#080808">MIA</text>
<line x1="335.00" y1="229.50" x2="339.20" y2="229.50" stroke="#111" stroke-width="1"/>
<text x="332.60" y="231.40" font-size="8.6" text-anchor="end" fill="#080808">MIA/R</text>
<line x1="335.00" y1="251.50" x2="339.20" y2="251.50" stroke="#111" stroke-width="1"/>
<text x="332.60" y="254.30" font-size="8.6" text-anchor="end" fill="#080808">MIA</text>
<line x1="335.00" y1="274.50" x2="339.20" y2="274.50" stroke="#111" stroke-width="1"/>
<text x="332.60" y="277.00" font-size="8.6" text-anchor="end" fill="#080808">MIA/R</text>
<text x="299.90" y="219.80" font-size="8.7" text-anchor="end" fill="#080808">AMG510</text>
<text x="301.20" y="266.30" font-size="8.7" text-anchor="end" fill="#080808">MRTX849</text>
<line x1="303.00" y1="201.90" x2="303.00" y2="229.00" stroke="#3c3c3c" stroke-width="1.5"/>
<line x1="303.00" y1="249.80" x2="303.00" y2="277.00" stroke="#3c3c3c" stroke-width="1.5"/>
<text x="365.40" y="209.80" font-size="7.1" fill="#080808">2.5 × 10<tspan font-size="4.6" dy="-3">1</tspan></text>
<text x="397.70" y="232.80" font-size="7.1" fill="#080808">5.9 × 10<tspan font-size="4.6" dy="-3">5</tspan></text>
<text x="357.10" y="254.70" font-size="7.1" fill="#080808">2.0 × 10<tspan font-size="4.6" dy="-3">1</tspan></text>
<text x="409.00" y="277.10" font-size="6.8" fill="#080808">1.2 × 10<tspan font-size="4.6" dy="-3">6</tspan></text>
<line x1="441.20" y1="201.50" x2="441.20" y2="229.20" stroke="#3c3c3c" stroke-width="1.5"/>
<line x1="441.20" y1="249.80" x2="441.20" y2="276.30" stroke="#3c3c3c" stroke-width="1.5"/>
<text x="448.80" y="220.20" font-size="8.8" fill="#080808">RF &gt; 20,000</text>
<text x="448.80" y="266.40" font-size="8.8" fill="#080808">RF &gt; 20,000</text>
<line x1="338.70" y1="289.50" x2="384.40" y2="289.50" stroke="#111" stroke-width="1"/>
<line x1="339.50" y1="289.20" x2="339.50" y2="292.20" stroke="#111" stroke-width="1"/>
<line x1="353.50" y1="289.20" x2="353.50" y2="292.20" stroke="#111" stroke-width="1"/>
<line x1="369.50" y1="289.20" x2="369.50" y2="292.20" stroke="#111" stroke-width="1"/>
<line x1="384.50" y1="286.60" x2="384.50" y2="292.00" stroke="#111" stroke-width="1"/>
<line x1="391.50" y1="289.50" x2="437.30" y2="289.50" stroke="#111" stroke-width="1"/>
<line x1="391.50" y1="287.40" x2="391.50" y2="292.40" stroke="#111" stroke-width="1"/>
<line x1="410.50" y1="289.80" x2="410.50" y2="292.60" stroke="#111" stroke-width="1"/>
<line x1="437.50" y1="287.40" x2="437.50" y2="292.60" stroke="#111" stroke-width="1"/>
<text x="339.60" y="305.50" font-size="8.3" text-anchor="middle" fill="#080808">0</text>
<text x="353.80" y="305.50" font-size="8.3" text-anchor="middle" fill="#080808">20</text>
<text x="369.20" y="305.50" font-size="8.3" text-anchor="middle" fill="#080808">40</text>
<text x="384.20" y="305.50" font-size="8.3" text-anchor="middle" fill="#080808">60</text>
<text x="396.00" y="304.70" font-size="8.3" fill="#080808">2 × 10<tspan font-size="5.6" dy="-3.4">6</tspan></text>
<text x="426.20" y="304.70" font-size="8.3" fill="#080808">4 × 10<tspan font-size="5.6" dy="-3.4">6</tspan></text>
<text x="372.8" y="318.6" font-size="8.8" fill="#080808">IC<tspan font-size="6" dy="2">50</tspan><tspan dy="-2"> (nmol/L)</tspan></text>
<text x="0.60" y="344.75" font-size="12" font-weight="bold" fill="#000" style="stroke:#000;stroke-width:0.55px">D</text>
<text x="138.75" y="358.00" font-size="8.8" fill="#080808">562055</text>
<line x1="71.00" y1="362.50" x2="245.80" y2="362.50" stroke="#333" stroke-width="1.3"/>
<text x="54.40" y="374.80" font-size="7.0" text-anchor="middle" fill="#080808" letter-spacing="-0.1">Ctrl</text>
<text x="75.10" y="374.80" font-size="7.0" text-anchor="middle" fill="#080808" letter-spacing="-0.1">7.8</text>
<text x="92.50" y="374.80" font-size="7.0" text-anchor="middle" fill="#080808" letter-spacing="-0.1">15.6</text>
<text x="112.90" y="374.80" font-size="7.0" text-anchor="middle" fill="#080808" letter-spacing="-0.1">31.3</text>
<text x="133.70" y="374.80" font-size="7.0" text-anchor="middle" fill="#080808" letter-spacing="-0.1">62.5</text>
<text x="153.60" y="374.80" font-size="7.0" text-anchor="middle" fill="#080808" letter-spacing="-0.1">125</text>
<text x="172.30" y="374.80" font-size="7.0" text-anchor="middle" fill="#080808" letter-spacing="-0.1">250</text>
<text x="190.80" y="374.80" font-size="7.0" text-anchor="middle" fill="#080808" letter-spacing="-0.1">500</text>
<text x="212.20" y="374.80" font-size="7.0" text-anchor="middle" fill="#080808" letter-spacing="-0.1">1,000</text>
<text x="233.50" y="374.80" font-size="7.0" text-anchor="middle" fill="#080808" letter-spacing="-0.1">2,000</text>
<text x="245.90" y="374.80" font-size="7.0" fill="#080808" letter-spacing="-0.1">(nmol/L)</text>
<defs><linearGradient id="gD1" x1="0" x2="1" y1="0" y2="0"><stop offset="0" stop-color="#b6b6b6"/><stop offset="0.15" stop-color="#bdbdbd"/><stop offset="1" stop-color="#c3c3c3"/></linearGradient><linearGradient id="gD2" x1="0" x2="1" y1="0" y2="0"><stop offset="0" stop-color="#858585"/><stop offset="0.2" stop-color="#9a9a9a"/><stop offset="0.5" stop-color="#a6a6a6"/><stop offset="1" stop-color="#ababab"/></linearGradient><linearGradient id="gD3" x1="0" x2="1" y1="0" y2="0"><stop offset="0" stop-color="#cdcdcd"/><stop offset="1" stop-color="#d4d4d4"/></linearGradient><linearGradient id="gD4" x1="0" x2="1" y1="0" y2="0"><stop offset="0" stop-color="#b8b8b8"/><stop offset="1" stop-color="#c0c0c0"/></linearGradient></defs>
<rect x="46.90" y="379.60" width="195.10" height="15.80" fill="url(#gD1)"/>
<rect x="46.90" y="399.70" width="195.10" height="16.10" fill="url(#gD2)"/>
<rect x="46.90" y="420.80" width="195.10" height="15.80" fill="url(#gD3)"/>
<rect x="46.90" y="440.80" width="195.10" height="16.00" fill="url(#gD4)"/>
<rect x="49.10" y="386.90" width="13.80" height="3.80" rx="1.90" fill="#000" fill-opacity="1.00" filter="url(#b6)"/>
<rect x="48.50" y="404.40" width="15.00" height="6.00" rx="3.00" fill="#000" fill-opacity="1.00" filter="url(#b7)"/>
<rect x="49.10" y="427.45" width="13.80" height="3.10" rx="1.55" fill="#000" fill-opacity="0.89" filter="url(#b6)"/>
<rect x="48.50" y="449.20" width="15.00" height="5.20" rx="2.60" fill="#000" fill-opacity="1.00" filter="url(#b7)"/>
<rect x="68.70" y="386.90" width="13.80" height="3.80" rx="1.90" fill="#000" fill-opacity="1.00" filter="url(#b6)"/>
<rect x="68.10" y="405.00" width="15.00" height="4.80" rx="2.40" fill="#000" fill-opacity="0.92" filter="url(#b7)"/>
<rect x="68.70" y="427.45" width="13.80" height="3.10" rx="1.55" fill="#000" fill-opacity="0.84" filter="url(#b6)"/>
<rect x="68.10" y="449.20" width="15.00" height="5.20" rx="2.60" fill="#000" fill-opacity="1.00" filter="url(#b7)"/>
<rect x="88.30" y="386.90" width="13.80" height="3.80" rx="1.90" fill="#000" fill-opacity="0.99" filter="url(#b6)"/>
<rect x="87.70" y="405.00" width="15.00" height="4.80" rx="2.40" fill="#000" fill-opacity="0.88" filter="url(#b7)"/>
<rect x="88.30" y="427.45" width="13.80" height="3.10" rx="1.55" fill="#000" fill-opacity="0.86" filter="url(#b6)"/>
<rect x="87.70" y="449.20" width="15.00" height="5.20" rx="2.60" fill="#000" fill-opacity="1.00" filter="url(#b7)"/>
<rect x="107.90" y="386.90" width="13.80" height="3.80" rx="1.90" fill="#000" fill-opacity="0.97" filter="url(#b6)"/>
<rect x="107.30" y="405.00" width="15.00" height="4.80" rx="2.40" fill="#000" fill-opacity="0.88" filter="url(#b7)"/>
<rect x="107.90" y="427.45" width="13.80" height="3.10" rx="1.55" fill="#000" fill-opacity="0.79" filter="url(#b6)"/>
<rect x="107.30" y="449.20" width="15.00" height="5.20" rx="2.60" fill="#000" fill-opacity="1.00" filter="url(#b7)"/>
<rect x="127.50" y="386.90" width="13.80" height="3.80" rx="1.90" fill="#000" fill-opacity="0.86" filter="url(#b6)"/>
<rect x="126.90" y="405.00" width="15.00" height="4.80" rx="2.40" fill="#000" fill-opacity="0.70" filter="url(#b7)"/>
<rect x="127.50" y="427.45" width="13.80" height="3.10" rx="1.55" fill="#000" fill-opacity="0.68" filter="url(#b6)"/>
<rect x="126.90" y="449.20" width="15.00" height="5.20" rx="2.60" fill="#000" fill-opacity="0.95" filter="url(#b7)"/>
<rect x="147.10" y="386.90" width="13.80" height="3.80" rx="1.90" fill="#000" fill-opacity="0.78" filter="url(#b6)"/>
<rect x="146.50" y="405.00" width="15.00" height="4.80" rx="2.40" fill="#000" fill-opacity="0.68" filter="url(#b7)"/>
<rect x="147.10" y="427.45" width="13.80" height="3.10" rx="1.55" fill="#000" fill-opacity="0.58" filter="url(#b6)"/>
<rect x="146.50" y="449.20" width="15.00" height="5.20" rx="2.60" fill="#000" fill-opacity="0.95" filter="url(#b7)"/>
<rect x="166.70" y="387.35" width="13.80" height="2.90" rx="1.45" fill="#000" fill-opacity="0.65" filter="url(#b6)"/>
<rect x="166.10" y="405.00" width="15.00" height="4.80" rx="2.40" fill="#000" fill-opacity="0.80" filter="url(#b7)"/>
<rect x="166.70" y="427.45" width="13.80" height="3.10" rx="1.55" fill="#000" fill-opacity="0.53" filter="url(#b6)"/>
<rect x="166.10" y="449.20" width="15.00" height="5.20" rx="2.60" fill="#000" fill-opacity="1.00" filter="url(#b7)"/>
<rect x="186.30" y="387.35" width="13.80" height="2.90" rx="1.45" fill="#000" fill-opacity="0.49" filter="url(#b6)"/>
<rect x="185.70" y="405.00" width="15.00" height="4.80" rx="2.40" fill="#000" fill-opacity="0.95" filter="url(#b7)"/>
<rect x="186.30" y="427.45" width="13.80" height="3.10" rx="1.55" fill="#000" fill-opacity="0.47" filter="url(#b6)"/>
<rect x="185.70" y="449.20" width="15.00" height="5.20" rx="2.60" fill="#000" fill-opacity="1.00" filter="url(#b7)"/>
<rect x="205.90" y="387.35" width="13.80" height="2.90" rx="1.45" fill="#000" fill-opacity="0.39" filter="url(#b6)"/>
<rect x="205.30" y="405.00" width="15.00" height="4.80" rx="2.40" fill="#000" fill-opacity="1.00" filter="url(#b7)"/>
<rect x="205.90" y="427.45" width="13.80" height="3.10" rx="1.55" fill="#000" fill-opacity="0.47" filter="url(#b6)"/>
<rect x="205.30" y="449.20" width="15.00" height="5.20" rx="2.60" fill="#000" fill-opacity="1.00" filter="url(#b7)"/>
<rect x="225.50" y="387.35" width="13.80" height="2.90" rx="1.45" fill="#000" fill-opacity="0.39" filter="url(#b6)"/>
<rect x="224.90" y="405.00" width="15.00" height="4.80" rx="2.40" fill="#000" fill-opacity="1.00" filter="url(#b7)"/>
<rect x="225.50" y="427.45" width="13.80" height="3.10" rx="1.55" fill="#000" fill-opacity="0.68" filter="url(#b6)"/>
<rect x="224.90" y="449.20" width="15.00" height="5.20" rx="2.60" fill="#000" fill-opacity="1.00" filter="url(#b7)"/>
<text x="4.75" y="391.00" font-size="8.5" fill="#080808">SOS1</text>
<text x="4.75" y="410.60" font-size="8.5" fill="#080808">β-Tubulin</text>
<text x="4.75" y="429.00" font-size="8.5" fill="#080808">SOS1</text>
<text x="4.75" y="448.50" font-size="8.5" fill="#080808">β-Tubulin</text>
<line x1="246.40" y1="383.40" x2="246.40" y2="412.20" stroke="#3c3c3c" stroke-width="1.5"/>
<line x1="246.40" y1="425.20" x2="246.40" y2="454.90" stroke="#3c3c3c" stroke-width="1.5"/>
<text transform="translate(261.0,401.5) rotate(-90)" font-size="8.8" text-anchor="middle" fill="#080808">MIA/R</text>
<text transform="translate(261.0,442.0) rotate(-90)" font-size="8.8" text-anchor="middle" fill="#080808">MIA</text>
<text x="291.90" y="344.75" font-size="12" font-weight="bold" fill="#000" style="stroke:#000;stroke-width:0.55px">E</text>
<text x="361.80" y="341.80" font-size="8.8" fill="#080808">MIA PaCa-2/R</text>
<line x1="313.50" y1="354.00" x2="313.50" y2="469.20" stroke="#111" stroke-width="1"/>
<line x1="310.90" y1="468.50" x2="313.50" y2="468.50" stroke="#111" stroke-width="1"/>
<text x="308.30" y="471.75" font-size="8.3" text-anchor="end" fill="#080808">0</text>
<line x1="312.00" y1="459.50" x2="313.50" y2="459.50" stroke="#111" stroke-width="1"/>
<line x1="310.90" y1="449.50" x2="313.50" y2="449.50" stroke="#111" stroke-width="1"/>
<text x="308.30" y="452.65" font-size="8.3" text-anchor="end" fill="#080808">2</text>
<line x1="312.00" y1="440.50" x2="313.50" y2="440.50" stroke="#111" stroke-width="1"/>
<line x1="310.90" y1="430.50" x2="313.50" y2="430.50" stroke="#111" stroke-width="1"/>
<text x="308.30" y="433.55" font-size="8.3" text-anchor="end" fill="#080808">4</text>
<line x1="312.00" y1="421.50" x2="313.50" y2="421.50" stroke="#111" stroke-width="1"/>
<line x1="310.90" y1="411.50" x2="313.50" y2="411.50" stroke="#111" stroke-width="1"/>
<text x="308.30" y="414.45" font-size="8.3" text-anchor="end" fill="#080808">6</text>
<line x1="312.00" y1="401.50" x2="313.50" y2="401.50" stroke="#111" stroke-width="1"/>
<line x1="310.90" y1="392.50" x2="313.50" y2="392.50" stroke="#111" stroke-width="1"/>
<text x="308.30" y="395.35" font-size="8.3" text-anchor="end" fill="#080808">8</text>
<line x1="312.00" y1="382.50" x2="313.50" y2="382.50" stroke="#111" stroke-width="1"/>
<line x1="310.90" y1="373.50" x2="313.50" y2="373.50" stroke="#111" stroke-width="1"/>
<text x="308.30" y="376.25" font-size="8.3" text-anchor="end" fill="#080808">10</text>
<line x1="312.00" y1="363.50" x2="313.50" y2="363.50" stroke="#111" stroke-width="1"/>
<line x1="310.90" y1="354.50" x2="313.50" y2="354.50" stroke="#111" stroke-width="1"/>
<text x="308.30" y="357.15" font-size="8.3" text-anchor="end" fill="#080808">12</text>
<line x1="313.50" y1="468.50" x2="455.60" y2="468.50" stroke="#111" stroke-width="1"/>
<line x1="313.50" y1="468.75" x2="313.50" y2="471.55" stroke="#111" stroke-width="1"/>
<text x="313.50" y="480.60" font-size="8.3" text-anchor="middle" fill="#080808">0</text>
<line x1="337.50" y1="468.75" x2="337.50" y2="471.55" stroke="#111" stroke-width="1"/>
<text x="337.11" y="480.60" font-size="8.3" text-anchor="middle" fill="#080808">3</text>
<line x1="360.50" y1="468.75" x2="360.50" y2="471.55" stroke="#111" stroke-width="1"/>
<text x="360.72" y="480.60" font-size="8.3" text-anchor="middle" fill="#080808">6</text>
<line x1="384.50" y1="468.75" x2="384.50" y2="471.55" stroke="#111" stroke-width="1"/>
<text x="384.33" y="480.60" font-size="8.3" text-anchor="middle" fill="#080808">9</text>
<line x1="407.50" y1="468.75" x2="407.50" y2="471.55" stroke="#111" stroke-width="1"/>
<text x="407.94" y="480.60" font-size="8.3" text-anchor="middle" fill="#080808">12</text>
<line x1="431.50" y1="468.75" x2="431.50" y2="471.55" stroke="#111" stroke-width="1"/>
<text x="431.55" y="480.60" font-size="8.3" text-anchor="middle" fill="#080808">15</text>
<line x1="455.50" y1="468.75" x2="455.50" y2="471.55" stroke="#111" stroke-width="1"/>
<text x="455.16" y="480.60" font-size="8.3" text-anchor="middle" fill="#080808">18</text>
<text x="462.30" y="480.60" font-size="8.3" fill="#080808">(day)</text>
<text transform="translate(297.0,410.5) rotate(-90)" font-size="8.8" text-anchor="middle" fill="#080808">RTV</text>
<text x="329.80" y="493.80" font-size="8.45" fill="#080808">Days after the start of treatment</text>
<line x1="384.50" y1="451.56" x2="384.50" y2="447.74" stroke="#8d5f22" stroke-width="1"/>
<line x1="382.33" y1="447.50" x2="386.33" y2="447.50" stroke="#8d5f22" stroke-width="1"/>
<line x1="382.33" y1="451.50" x2="386.33" y2="451.50" stroke="#8d5f22" stroke-width="1"/>
<line x1="431.50" y1="443.63" x2="431.50" y2="437.90" stroke="#8d5f22" stroke-width="1"/>
<line x1="429.55" y1="437.50" x2="433.55" y2="437.50" stroke="#8d5f22" stroke-width="1"/>
<line x1="429.55" y1="443.50" x2="433.55" y2="443.50" stroke="#8d5f22" stroke-width="1"/>
<line x1="455.50" y1="441.82" x2="455.50" y2="432.27" stroke="#8d5f22" stroke-width="1"/>
<line x1="453.16" y1="432.50" x2="457.16" y2="432.50" stroke="#8d5f22" stroke-width="1"/>
<line x1="453.16" y1="441.50" x2="457.16" y2="441.50" stroke="#8d5f22" stroke-width="1"/>
<line x1="455.50" y1="426.25" x2="455.50" y2="417.66" stroke="#125731" stroke-width="1"/>
<line x1="453.16" y1="417.50" x2="457.16" y2="417.50" stroke="#125731" stroke-width="1"/>
<line x1="453.16" y1="426.50" x2="457.16" y2="426.50" stroke="#125731" stroke-width="1"/>
<line x1="360.50" y1="448.98" x2="360.50" y2="443.25" stroke="#000" stroke-width="1"/>
<line x1="358.72" y1="443.50" x2="362.72" y2="443.50" stroke="#000" stroke-width="1"/>
<line x1="358.72" y1="448.50" x2="362.72" y2="448.50" stroke="#000" stroke-width="1"/>
<line x1="384.50" y1="439.14" x2="384.50" y2="429.60" stroke="#000" stroke-width="1"/>
<line x1="382.33" y1="429.50" x2="386.33" y2="429.50" stroke="#000" stroke-width="1"/>
<line x1="382.33" y1="439.50" x2="386.33" y2="439.50" stroke="#000" stroke-width="1"/>
<line x1="407.50" y1="423.48" x2="407.50" y2="413.93" stroke="#000" stroke-width="1"/>
<line x1="405.94" y1="413.50" x2="409.94" y2="413.50" stroke="#000" stroke-width="1"/>
<line x1="405.94" y1="423.50" x2="409.94" y2="423.50" stroke="#000" stroke-width="1"/>
<line x1="431.50" y1="403.14" x2="431.50" y2="384.42" stroke="#000" stroke-width="1"/>
<line x1="429.55" y1="384.50" x2="433.55" y2="384.50" stroke="#000" stroke-width="1"/>
<line x1="429.55" y1="403.50" x2="433.55" y2="403.50" stroke="#000" stroke-width="1"/>
<line x1="455.50" y1="374.20" x2="455.50" y2="361.79" stroke="#000" stroke-width="1"/>
<line x1="453.16" y1="361.50" x2="457.16" y2="361.50" stroke="#000" stroke-width="1"/>
<line x1="453.16" y1="374.50" x2="457.16" y2="374.50" stroke="#000" stroke-width="1"/>
<polyline points="313.50,459.20 337.11,459.39 360.72,459.77 384.33,459.20 407.94,459.58 431.55,459.96 455.16,459.96" fill="none" stroke="#ea1520" stroke-width="1.1" stroke-linejoin="round"/>
<polyline points="313.50,459.20 337.11,458.72 360.72,453.47 384.33,449.65 407.94,447.17 431.55,440.77 455.16,437.04" fill="none" stroke="#8d5f22" stroke-width="1.1" stroke-linejoin="round"/>
<polyline points="313.50,459.20 337.11,457.77 360.72,452.51 384.33,446.12 407.94,441.34 431.55,433.03 455.16,421.95" fill="none" stroke="#125731" stroke-width="1.1" stroke-linejoin="round"/>
<polyline points="313.50,459.20 337.11,456.53 360.72,446.12 384.33,434.37 407.94,418.71 431.55,393.78 455.16,368.00" fill="none" stroke="#000" stroke-width="1.1" stroke-linejoin="round"/>
<polygon points="313.50,456.45 316.25,461.20 310.75,461.20" fill="#ea1520"/>
<polygon points="337.11,456.64 339.86,461.39 334.36,461.39" fill="#ea1520"/>
<polygon points="360.72,457.02 363.47,461.77 357.97,461.77" fill="#ea1520"/>
<polygon points="384.33,456.45 387.08,461.20 381.58,461.20" fill="#ea1520"/>
<polygon points="407.94,456.83 410.69,461.58 405.19,461.58" fill="#ea1520"/>
<polygon points="431.55,457.21 434.30,461.96 428.80,461.96" fill="#ea1520"/>
<polygon points="455.16,457.21 457.91,461.96 452.41,461.96" fill="#ea1520"/>
<rect x="311.40" y="457.10" width="4.20" height="4.20" fill="#8d5f22"/>
<rect x="335.01" y="456.62" width="4.20" height="4.20" fill="#8d5f22"/>
<rect x="358.62" y="451.37" width="4.20" height="4.20" fill="#8d5f22"/>
<rect x="382.23" y="447.55" width="4.20" height="4.20" fill="#8d5f22"/>
<rect x="405.84" y="445.07" width="4.20" height="4.20" fill="#8d5f22"/>
<rect x="429.45" y="438.67" width="4.20" height="4.20" fill="#8d5f22"/>
<rect x="453.06" y="434.94" width="4.20" height="4.20" fill="#8d5f22"/>
<circle cx="313.50" cy="459.20" r="2.10" fill="#125731"/>
<circle cx="337.11" cy="457.77" r="2.10" fill="#125731"/>
<circle cx="360.72" cy="452.51" r="2.10" fill="#125731"/>
<circle cx="384.33" cy="446.12" r="2.10" fill="#125731"/>
<circle cx="407.94" cy="441.34" r="2.10" fill="#125731"/>
<circle cx="431.55" cy="433.03" r="2.10" fill="#125731"/>
<circle cx="455.16" cy="421.95" r="2.10" fill="#125731"/>
<circle cx="313.50" cy="459.20" r="2.50" fill="#000"/>
<circle cx="337.11" cy="456.53" r="2.50" fill="#000"/>
<circle cx="360.72" cy="446.12" r="2.50" fill="#000"/>
<circle cx="384.33" cy="434.37" r="2.50" fill="#000"/>
<circle cx="407.94" cy="418.71" r="2.50" fill="#000"/>
<circle cx="431.55" cy="393.78" r="2.50" fill="#000"/>
<circle cx="455.16" cy="368.00" r="2.50" fill="#000"/>
<line x1="323.70" y1="352.50" x2="331.50" y2="352.50" stroke="#000" stroke-width="1"/>
<circle cx="327.60" cy="352.60" r="2.30" fill="#000"/>
<text x="335.90" y="356.10" font-size="8.95" fill="#080808">Vehicle</text>
<line x1="323.70" y1="362.50" x2="331.50" y2="362.50" stroke="#8d5f22" stroke-width="1"/>
<rect x="325.30" y="360.30" width="4.60" height="4.60" fill="#8d5f22"/>
<text x="335.90" y="366.00" font-size="8.95" fill="#080808">562055 30 mg/kg qd</text>
<line x1="323.70" y1="372.50" x2="331.50" y2="372.50" stroke="#125731" stroke-width="1"/>
<circle cx="327.60" cy="372.40" r="2.30" fill="#125731"/>
<text x="335.90" y="375.80" font-size="8.95" fill="#080808">MRTX849 10 mg/kg qd</text>
<line x1="323.70" y1="382.50" x2="331.50" y2="382.50" stroke="#ea1520" stroke-width="1"/>
<polygon points="327.60,379.87 330.13,384.24 325.07,384.24" fill="#ea1520"/>
<text x="335.90" y="385.70" font-size="8.95" fill="#080808">Combo</text>
<line x1="467.50" y1="368.00" x2="467.50" y2="422.00" stroke="#222" stroke-width="1.1"/>
<line x1="483.50" y1="368.00" x2="483.50" y2="436.20" stroke="#222" stroke-width="1.1"/>
<line x1="499.50" y1="368.00" x2="499.50" y2="460.00" stroke="#222" stroke-width="1.1"/>
<line x1="461.50" y1="422.00" x2="461.50" y2="461.30" stroke="#222" stroke-width="1.1"/>
<line x1="479.50" y1="435.00" x2="479.50" y2="461.30" stroke="#222" stroke-width="1.1"/>
<text x="469.70" y="399.70" font-size="8" font-weight="bold" fill="#080808" letter-spacing="1.0">***</text>
<text x="485.40" y="407.00" font-size="8" font-weight="bold" fill="#080808" letter-spacing="1.0">***</text>
<text x="502.40" y="418.60" font-size="8" font-weight="bold" fill="#080808" letter-spacing="1.0">***</text>
<text x="463.80" y="445.90" font-size="8" font-weight="bold" fill="#080808" letter-spacing="1.0">***</text>
<text x="482.20" y="453.00" font-size="8" font-weight="bold" fill="#080808" letter-spacing="1.0">**</text>
<text x="0.60" y="494.40" font-size="12" font-weight="bold" fill="#000" style="stroke:#000;stroke-width:0.55px">F</text>
<text x="97.80" y="491.50" font-size="8.9" fill="#080808">MIA PaCa-2/R</text>
<line x1="48.50" y1="505.80" x2="48.50" y2="633.00" stroke="#111" stroke-width="1"/>
<line x1="44.90" y1="632.50" x2="48.30" y2="632.50" stroke="#111" stroke-width="1"/>
<text x="43.30" y="635.50" font-size="8.3" text-anchor="end" fill="#080808">0</text>
<line x1="46.40" y1="616.50" x2="48.30" y2="616.50" stroke="#111" stroke-width="1"/>
<line x1="44.90" y1="600.50" x2="48.30" y2="600.50" stroke="#111" stroke-width="1"/>
<text x="43.30" y="603.90" font-size="8.3" text-anchor="end" fill="#080808">10</text>
<line x1="46.40" y1="585.50" x2="48.30" y2="585.50" stroke="#111" stroke-width="1"/>
<line x1="44.90" y1="569.50" x2="48.30" y2="569.50" stroke="#111" stroke-width="1"/>
<text x="43.30" y="572.30" font-size="8.3" text-anchor="end" fill="#080808">20</text>
<line x1="46.40" y1="553.50" x2="48.30" y2="553.50" stroke="#111" stroke-width="1"/>
<line x1="44.90" y1="537.50" x2="48.30" y2="537.50" stroke="#111" stroke-width="1"/>
<text x="43.30" y="540.70" font-size="8.3" text-anchor="end" fill="#080808">30</text>
<line x1="46.40" y1="521.50" x2="48.30" y2="521.50" stroke="#111" stroke-width="1"/>
<line x1="44.90" y1="506.50" x2="48.30" y2="506.50" stroke="#111" stroke-width="1"/>
<text x="43.30" y="509.10" font-size="8.3" text-anchor="end" fill="#080808">40</text>
<line x1="48.30" y1="632.50" x2="207.60" y2="632.50" stroke="#111" stroke-width="1"/>
<line x1="48.50" y1="632.50" x2="48.50" y2="635.50" stroke="#111" stroke-width="1"/>
<text x="48.30" y="646.30" font-size="8.3" text-anchor="middle" fill="#080808">0</text>
<line x1="74.50" y1="632.50" x2="74.50" y2="635.50" stroke="#111" stroke-width="1"/>
<text x="74.64" y="646.30" font-size="8.3" text-anchor="middle" fill="#080808">3</text>
<line x1="100.50" y1="632.50" x2="100.50" y2="635.50" stroke="#111" stroke-width="1"/>
<text x="100.98" y="646.30" font-size="8.3" text-anchor="middle" fill="#080808">6</text>
<line x1="127.50" y1="632.50" x2="127.50" y2="635.50" stroke="#111" stroke-width="1"/>
<text x="127.32" y="646.30" font-size="8.3" text-anchor="middle" fill="#080808">9</text>
<line x1="153.50" y1="632.50" x2="153.50" y2="635.50" stroke="#111" stroke-width="1"/>
<text x="153.66" y="646.30" font-size="8.3" text-anchor="middle" fill="#080808">12</text>
<line x1="180.50" y1="632.50" x2="180.50" y2="635.50" stroke="#111" stroke-width="1"/>
<text x="180.00" y="646.30" font-size="8.3" text-anchor="middle" fill="#080808">15</text>
<line x1="206.50" y1="632.50" x2="206.50" y2="635.50" stroke="#111" stroke-width="1"/>
<text x="206.34" y="646.30" font-size="8.3" text-anchor="middle" fill="#080808">18</text>
<text x="213.80" y="646.30" font-size="8.3" fill="#080808">(day)</text>
<text transform="translate(28.8,569.7) rotate(-90)" font-size="8.9" text-anchor="middle" fill="#080808">Body weight (g)</text>
<text x="62.30" y="660.80" font-size="8.9" fill="#080808">Days after the start of treatment</text>
<line x1="48.50" y1="565.82" x2="48.50" y2="562.66" stroke="#8d5f22" stroke-width="1"/>
<line x1="46.10" y1="562.50" x2="50.50" y2="562.50" stroke="#8d5f22" stroke-width="1"/>
<line x1="46.10" y1="565.50" x2="50.50" y2="565.50" stroke="#8d5f22" stroke-width="1"/>
<line x1="74.50" y1="569.30" x2="74.50" y2="565.51" stroke="#8d5f22" stroke-width="1"/>
<line x1="72.44" y1="565.50" x2="76.84" y2="565.50" stroke="#8d5f22" stroke-width="1"/>
<line x1="72.44" y1="569.50" x2="76.84" y2="569.50" stroke="#8d5f22" stroke-width="1"/>
<line x1="100.50" y1="568.67" x2="100.50" y2="565.51" stroke="#8d5f22" stroke-width="1"/>
<line x1="98.78" y1="565.50" x2="103.18" y2="565.50" stroke="#8d5f22" stroke-width="1"/>
<line x1="98.78" y1="568.50" x2="103.18" y2="568.50" stroke="#8d5f22" stroke-width="1"/>
<line x1="127.50" y1="564.24" x2="127.50" y2="560.45" stroke="#8d5f22" stroke-width="1"/>
<line x1="125.12" y1="560.50" x2="129.52" y2="560.50" stroke="#8d5f22" stroke-width="1"/>
<line x1="125.12" y1="564.50" x2="129.52" y2="564.50" stroke="#8d5f22" stroke-width="1"/>
<line x1="153.50" y1="564.09" x2="153.50" y2="553.03" stroke="#8d5f22" stroke-width="1"/>
<line x1="151.46" y1="553.50" x2="155.86" y2="553.50" stroke="#8d5f22" stroke-width="1"/>
<line x1="151.46" y1="564.50" x2="155.86" y2="564.50" stroke="#8d5f22" stroke-width="1"/>
<line x1="180.50" y1="563.77" x2="180.50" y2="554.61" stroke="#8d5f22" stroke-width="1"/>
<line x1="177.80" y1="554.50" x2="182.20" y2="554.50" stroke="#8d5f22" stroke-width="1"/>
<line x1="177.80" y1="563.50" x2="182.20" y2="563.50" stroke="#8d5f22" stroke-width="1"/>
<line x1="206.50" y1="563.93" x2="206.50" y2="549.39" stroke="#8d5f22" stroke-width="1"/>
<line x1="204.14" y1="549.50" x2="208.54" y2="549.50" stroke="#8d5f22" stroke-width="1"/>
<line x1="204.14" y1="563.50" x2="208.54" y2="563.50" stroke="#8d5f22" stroke-width="1"/>
<line x1="127.50" y1="556.03" x2="127.50" y2="553.18" stroke="#ea1520" stroke-width="1"/>
<line x1="125.12" y1="553.50" x2="129.52" y2="553.50" stroke="#ea1520" stroke-width="1"/>
<polyline points="48.30,564.24 74.64,567.40 100.98,567.09 127.32,562.35 153.66,558.56 180.00,559.19 206.34,556.66" fill="none" stroke="#8d5f22" stroke-width="1.1" stroke-linejoin="round"/>
<polyline points="48.30,563.30 74.64,562.98 100.98,562.98 127.32,561.40 153.66,560.45 180.00,559.50 206.34,558.87" fill="none" stroke="#125731" stroke-width="1.1" stroke-linejoin="round"/>
<polyline points="48.30,559.50 74.64,564.56 100.98,564.56 127.32,556.03 153.66,557.61 180.00,558.24 206.34,559.19" fill="none" stroke="#ea1520" stroke-width="1.1" stroke-linejoin="round"/>
<polyline points="48.30,562.98 74.64,562.03 100.98,561.72 127.32,560.14 153.66,558.87 180.00,557.29 206.34,555.40" fill="none" stroke="#000" stroke-width="1.1" stroke-linejoin="round"/>
<rect x="45.90" y="561.84" width="4.80" height="4.80" fill="#8d5f22"/>
<rect x="72.24" y="565.00" width="4.80" height="4.80" fill="#8d5f22"/>
<rect x="98.58" y="564.69" width="4.80" height="4.80" fill="#8d5f22"/>
<rect x="124.92" y="559.95" width="4.80" height="4.80" fill="#8d5f22"/>
<rect x="151.26" y="556.16" width="4.80" height="4.80" fill="#8d5f22"/>
<rect x="177.60" y="556.79" width="4.80" height="4.80" fill="#8d5f22"/>
<rect x="203.94" y="554.26" width="4.80" height="4.80" fill="#8d5f22"/>
<circle cx="48.30" cy="563.30" r="2.30" fill="#125731"/>
<circle cx="74.64" cy="562.98" r="2.30" fill="#125731"/>
<circle cx="100.98" cy="562.98" r="2.30" fill="#125731"/>
<circle cx="127.32" cy="561.40" r="2.30" fill="#125731"/>
<circle cx="153.66" cy="560.45" r="2.30" fill="#125731"/>
<circle cx="180.00" cy="559.50" r="2.30" fill="#125731"/>
<circle cx="206.34" cy="558.87" r="2.30" fill="#125731"/>
<polygon points="48.30,557.08 50.72,561.26 45.88,561.26" fill="#ea1520"/>
<polygon points="74.64,562.14 77.06,566.32 72.22,566.32" fill="#ea1520"/>
<polygon points="100.98,562.14 103.40,566.32 98.56,566.32" fill="#ea1520"/>
<polygon points="127.32,553.61 129.74,557.79 124.90,557.79" fill="#ea1520"/>
<polygon points="153.66,555.19 156.08,559.37 151.24,559.37" fill="#ea1520"/>
<polygon points="180.00,555.82 182.42,560.00 177.58,560.00" fill="#ea1520"/>
<polygon points="206.34,556.77 208.76,560.95 203.92,560.95" fill="#ea1520"/>
<circle cx="48.30" cy="562.98" r="2.90" fill="#000"/>
<circle cx="74.64" cy="562.03" r="2.90" fill="#000"/>
<circle cx="100.98" cy="561.72" r="2.90" fill="#000"/>
<circle cx="127.32" cy="560.14" r="2.90" fill="#000"/>
<circle cx="153.66" cy="558.87" r="2.90" fill="#000"/>
<circle cx="180.00" cy="557.29" r="2.90" fill="#000"/>
<circle cx="206.34" cy="555.40" r="2.90" fill="#000"/>
<line x1="54.60" y1="501.50" x2="64.30" y2="501.50" stroke="#000" stroke-width="1"/>
<circle cx="59.30" cy="501.90" r="2.60" fill="#000"/>
<text x="70.30" y="505.40" font-size="8.9" fill="#080808">Vehicle</text>
<line x1="54.60" y1="513.50" x2="64.30" y2="513.50" stroke="#8d5f22" stroke-width="1"/>
<rect x="56.60" y="510.30" width="5.40" height="5.40" fill="#8d5f22"/>
<text x="70.30" y="516.60" font-size="8.9" fill="#080808">562055 30 mg/kg qd</text>
<line x1="54.60" y1="524.50" x2="64.30" y2="524.50" stroke="#125731" stroke-width="1"/>
<circle cx="59.30" cy="524.50" r="2.40" fill="#125731"/>
<text x="70.30" y="527.90" font-size="8.9" fill="#080808">MRTX849 10 mg/kg qd</text>
<line x1="54.60" y1="535.50" x2="64.30" y2="535.50" stroke="#ea1520" stroke-width="1"/>
<polygon points="59.30,532.12 62.38,537.44 56.22,537.44" fill="#ea1520"/>
<text x="70.30" y="538.80" font-size="8.9" fill="#080808">Combo</text>
<text x="291.90" y="520.00" font-size="12" font-weight="bold" fill="#000" style="stroke:#000;stroke-width:0.55px">G</text>
<text x="326.25" y="527.00" font-size="8.8" fill="#080808">Vehicle</text>
<line x1="319.00" y1="531.50" x2="358.75" y2="531.50" stroke="#333" stroke-width="1.3"/>
<text x="375.60" y="527.00" font-size="8.8" fill="#080808">562055</text>
<line x1="370.25" y1="531.50" x2="410.00" y2="531.50" stroke="#333" stroke-width="1.3"/>
<text x="422.00" y="527.00" font-size="8.8" fill="#080808">MRTX849</text>
<line x1="421.50" y1="531.50" x2="461.00" y2="531.50" stroke="#333" stroke-width="1.3"/>
<text x="478.00" y="527.00" font-size="8.8" fill="#080808">Combo</text>
<line x1="472.60" y1="531.50" x2="512.00" y2="531.50" stroke="#333" stroke-width="1.3"/>
<text x="321.00" y="544.00" font-size="8.6" text-anchor="middle" fill="#080808">1</text>
<text x="338.10" y="544.00" font-size="8.6" text-anchor="middle" fill="#080808">2</text>
<text x="355.20" y="544.00" font-size="8.6" text-anchor="middle" fill="#080808">3</text>
<text x="372.30" y="544.00" font-size="8.6" text-anchor="middle" fill="#080808">1</text>
<text x="389.40" y="544.00" font-size="8.6" text-anchor="middle" fill="#080808">2</text>
<text x="406.50" y="544.00" font-size="8.6" text-anchor="middle" fill="#080808">3</text>
<text x="423.60" y="544.00" font-size="8.6" text-anchor="middle" fill="#080808">1</text>
<text x="440.70" y="544.00" font-size="8.6" text-anchor="middle" fill="#080808">2</text>
<text x="457.80" y="544.00" font-size="8.6" text-anchor="middle" fill="#080808">3</text>
<text x="474.90" y="544.00" font-size="8.6" text-anchor="middle" fill="#080808">1</text>
<text x="492.00" y="544.00" font-size="8.6" text-anchor="middle" fill="#080808">2</text>
<text x="509.10" y="544.00" font-size="8.6" text-anchor="middle" fill="#080808">3</text>
<text x="254.40" y="559.00" font-size="8.8" fill="#080808">SOS1</text>
<text x="254.40" y="579.80" font-size="8.8" fill="#080808">pERK</text>
<text x="254.40" y="601.00" font-size="8.8" fill="#080808">ERK</text>
<text x="254.40" y="622.50" font-size="8.8" fill="#080808">C-caspase-3</text>
<text x="254.40" y="643.10" font-size="8.8" fill="#080808">GAPDH</text>
<rect x="309.40" y="546.00" width="208.60" height="18.00" fill="#f5f5f5"/>
<rect x="309.40" y="567.30" width="208.60" height="17.50" fill="#ececec"/>
<rect x="309.40" y="588.60" width="208.60" height="17.80" fill="#f4f4f4"/>
<rect x="309.40" y="610.20" width="210.60" height="17.30" fill="#e5e5e5"/>
<rect x="309.40" y="632.30" width="208.60" height="16.50" fill="#f6f6f6"/>
<rect x="311.95" y="553.10" width="14.50" height="3.80" rx="1.90" fill="#000" fill-opacity="1.00" filter="url(#b6)"/>
<rect x="311.95" y="570.80" width="14.50" height="2.80" rx="1.40" fill="#000" fill-opacity="0.45" filter="url(#b9)"/>
<rect x="311.80" y="575.65" width="14.80" height="4.30" rx="2.15" fill="#000" fill-opacity="1.00" filter="url(#b6)"/>
<rect x="311.40" y="594.70" width="15.60" height="7.40" rx="3.00" fill="#000" fill-opacity="1.00" filter="url(#b8)"/>
<rect x="312.45" y="613.80" width="13.50" height="10.00" rx="3.00" fill="#000" fill-opacity="0.08" filter="url(#b15)"/>
<rect x="315.20" y="617.30" width="10.00" height="5.00" rx="2.00" fill="#000" fill-opacity="0.07" filter="url(#b10)"/>
<rect x="329.31" y="553.20" width="14.50" height="3.60" rx="1.80" fill="#000" fill-opacity="0.95" filter="url(#b6)"/>
<rect x="329.31" y="570.80" width="14.50" height="2.80" rx="1.40" fill="#000" fill-opacity="0.45" filter="url(#b9)"/>
<rect x="329.16" y="575.55" width="14.80" height="4.50" rx="2.25" fill="#000" fill-opacity="1.00" filter="url(#b6)"/>
<rect x="328.76" y="594.70" width="15.60" height="7.40" rx="3.00" fill="#000" fill-opacity="1.00" filter="url(#b8)"/>
<rect x="329.81" y="613.80" width="13.50" height="10.00" rx="3.00" fill="#000" fill-opacity="0.15" filter="url(#b15)"/>
<rect x="332.56" y="617.30" width="10.00" height="5.00" rx="2.00" fill="#000" fill-opacity="0.13" filter="url(#b10)"/>
<rect x="346.67" y="553.10" width="14.50" height="3.80" rx="1.90" fill="#000" fill-opacity="0.95" filter="url(#b6)"/>
<rect x="346.67" y="570.80" width="14.50" height="2.80" rx="1.40" fill="#000" fill-opacity="0.55" filter="url(#b9)"/>
<rect x="346.52" y="575.15" width="14.80" height="5.30" rx="2.65" fill="#000" fill-opacity="1.00" filter="url(#b6)"/>
<rect x="346.12" y="594.70" width="15.60" height="7.40" rx="3.00" fill="#000" fill-opacity="1.00" filter="url(#b8)"/>
<rect x="347.17" y="613.80" width="13.50" height="10.00" rx="3.00" fill="#000" fill-opacity="0.20" filter="url(#b15)"/>
<rect x="349.92" y="617.30" width="10.00" height="5.00" rx="2.00" fill="#000" fill-opacity="0.17" filter="url(#b10)"/>
<rect x="364.03" y="553.70" width="14.50" height="2.60" rx="1.30" fill="#000" fill-opacity="0.35" filter="url(#b6)"/>
<rect x="364.03" y="570.80" width="14.50" height="2.80" rx="1.40" fill="#000" fill-opacity="0.18" filter="url(#b9)"/>
<rect x="363.88" y="576.05" width="14.80" height="3.50" rx="1.75" fill="#000" fill-opacity="0.90" filter="url(#b6)"/>
<rect x="363.48" y="594.70" width="15.60" height="7.40" rx="3.00" fill="#000" fill-opacity="1.00" filter="url(#b8)"/>
<rect x="364.53" y="613.80" width="13.50" height="10.00" rx="3.00" fill="#000" fill-opacity="0.27" filter="url(#b15)"/>
<rect x="367.28" y="617.30" width="10.00" height="5.00" rx="2.00" fill="#000" fill-opacity="0.23" filter="url(#b10)"/>
<rect x="381.39" y="553.40" width="14.50" height="3.20" rx="1.60" fill="#000" fill-opacity="0.70" filter="url(#b6)"/>
<rect x="381.39" y="570.80" width="14.50" height="2.80" rx="1.40" fill="#000" fill-opacity="0.30" filter="url(#b9)"/>
<rect x="381.24" y="575.85" width="14.80" height="3.90" rx="1.95" fill="#000" fill-opacity="0.95" filter="url(#b6)"/>
<rect x="380.84" y="594.70" width="15.60" height="7.40" rx="3.00" fill="#000" fill-opacity="1.00" filter="url(#b8)"/>
<rect x="381.89" y="613.80" width="13.50" height="10.00" rx="3.00" fill="#000" fill-opacity="0.63" filter="url(#b15)"/>
<rect x="384.64" y="617.30" width="10.00" height="5.00" rx="2.00" fill="#000" fill-opacity="0.54" filter="url(#b10)"/>
<rect x="398.75" y="553.40" width="14.50" height="3.20" rx="1.60" fill="#000" fill-opacity="0.70" filter="url(#b6)"/>
<rect x="398.75" y="570.80" width="14.50" height="2.80" rx="1.40" fill="#000" fill-opacity="0.15" filter="url(#b9)"/>
<rect x="398.60" y="576.15" width="14.80" height="3.30" rx="1.65" fill="#000" fill-opacity="0.85" filter="url(#b6)"/>
<rect x="398.20" y="594.70" width="15.60" height="7.40" rx="3.00" fill="#000" fill-opacity="1.00" filter="url(#b8)"/>
<rect x="399.25" y="613.80" width="13.50" height="10.00" rx="3.00" fill="#000" fill-opacity="0.52" filter="url(#b15)"/>
<rect x="402.00" y="617.30" width="10.00" height="5.00" rx="2.00" fill="#000" fill-opacity="0.45" filter="url(#b10)"/>
<rect x="416.11" y="553.00" width="14.50" height="4.00" rx="2.00" fill="#000" fill-opacity="1.00" filter="url(#b6)"/>
<rect x="416.11" y="570.80" width="14.50" height="2.80" rx="1.40" fill="#000" fill-opacity="0.30" filter="url(#b9)"/>
<rect x="415.96" y="576.05" width="14.80" height="3.50" rx="1.75" fill="#000" fill-opacity="0.80" filter="url(#b6)"/>
<rect x="415.56" y="594.70" width="15.60" height="7.40" rx="3.00" fill="#000" fill-opacity="1.00" filter="url(#b8)"/>
<rect x="416.61" y="613.80" width="13.50" height="10.00" rx="3.00" fill="#000" fill-opacity="0.21" filter="url(#b15)"/>
<rect x="419.36" y="617.30" width="10.00" height="5.00" rx="2.00" fill="#000" fill-opacity="0.18" filter="url(#b10)"/>
<rect x="433.47" y="553.00" width="14.50" height="4.00" rx="2.00" fill="#000" fill-opacity="1.00" filter="url(#b6)"/>
<rect x="433.47" y="570.80" width="14.50" height="2.80" rx="1.40" fill="#000" fill-opacity="0.18" filter="url(#b9)"/>
<rect x="433.32" y="575.95" width="14.80" height="3.70" rx="1.85" fill="#000" fill-opacity="0.75" filter="url(#b6)"/>
<rect x="432.92" y="594.70" width="15.60" height="7.40" rx="3.00" fill="#000" fill-opacity="1.00" filter="url(#b8)"/>
<rect x="433.97" y="613.80" width="13.50" height="10.00" rx="3.00" fill="#000" fill-opacity="0.24" filter="url(#b15)"/>
<rect x="436.72" y="617.30" width="10.00" height="5.00" rx="2.00" fill="#000" fill-opacity="0.21" filter="url(#b10)"/>
<rect x="450.83" y="553.10" width="14.50" height="3.80" rx="1.90" fill="#000" fill-opacity="1.00" filter="url(#b6)"/>
<rect x="450.83" y="570.80" width="14.50" height="2.80" rx="1.40" fill="#000" fill-opacity="0.22" filter="url(#b9)"/>
<rect x="450.68" y="576.15" width="14.80" height="3.30" rx="1.65" fill="#000" fill-opacity="0.70" filter="url(#b6)"/>
<rect x="450.28" y="594.70" width="15.60" height="7.40" rx="3.00" fill="#000" fill-opacity="1.00" filter="url(#b8)"/>
<rect x="451.33" y="613.80" width="13.50" height="10.00" rx="3.00" fill="#000" fill-opacity="0.35" filter="url(#b15)"/>
<rect x="454.08" y="617.30" width="10.00" height="5.00" rx="2.00" fill="#000" fill-opacity="0.30" filter="url(#b10)"/>
<rect x="468.19" y="553.50" width="14.50" height="3.00" rx="1.50" fill="#000" fill-opacity="0.45" filter="url(#b6)"/>
<rect x="468.19" y="570.80" width="14.50" height="2.80" rx="1.40" fill="#000" fill-opacity="0.18" filter="url(#b9)"/>
<rect x="468.04" y="576.15" width="14.80" height="3.30" rx="1.65" fill="#000" fill-opacity="0.55" filter="url(#b6)"/>
<rect x="467.64" y="594.70" width="15.60" height="7.40" rx="3.00" fill="#000" fill-opacity="1.00" filter="url(#b8)"/>
<rect x="485.55" y="553.40" width="14.50" height="3.20" rx="1.60" fill="#000" fill-opacity="0.65" filter="url(#b6)"/>
<rect x="485.55" y="570.80" width="14.50" height="2.80" rx="1.40" fill="#000" fill-opacity="0.12" filter="url(#b9)"/>
<rect x="485.40" y="576.25" width="14.80" height="3.10" rx="1.55" fill="#000" fill-opacity="0.45" filter="url(#b6)"/>
<rect x="485.00" y="594.70" width="15.60" height="7.40" rx="3.00" fill="#000" fill-opacity="1.00" filter="url(#b8)"/>
<rect x="502.91" y="552.40" width="14.50" height="3.40" rx="1.70" fill="#000" fill-opacity="0.72" filter="url(#b6)"/>
<rect x="502.91" y="570.80" width="14.50" height="2.80" rx="1.40" fill="#000" fill-opacity="0.12" filter="url(#b9)"/>
<rect x="502.76" y="576.25" width="14.80" height="3.10" rx="1.55" fill="#000" fill-opacity="0.45" filter="url(#b6)"/>
<rect x="502.36" y="594.70" width="15.60" height="7.40" rx="3.00" fill="#000" fill-opacity="1.00" filter="url(#b8)"/>
<rect x="467.00" y="612.60" width="15.00" height="12.00" rx="4.00" fill="#000" fill-opacity="1.00" filter="url(#b9)"/>
<rect x="485.75" y="613.35" width="10.50" height="10.50" rx="4.00" fill="#000" fill-opacity="1.00" filter="url(#b9)"/>
<rect x="500.25" y="612.60" width="16.50" height="12.00" rx="4.00" fill="#000" fill-opacity="1.00" filter="url(#b9)"/>
<rect x="311.70" y="636.50" width="15.00" height="6.20" rx="2.90" fill="#000" fill-opacity="1.00" filter="url(#b8)"/>
<rect x="329.06" y="636.50" width="15.00" height="6.20" rx="2.90" fill="#000" fill-opacity="1.00" filter="url(#b8)"/>
<rect x="346.42" y="636.50" width="15.00" height="6.20" rx="2.90" fill="#000" fill-opacity="1.00" filter="url(#b8)"/>
<rect x="363.78" y="636.50" width="15.00" height="6.20" rx="2.90" fill="#000" fill-opacity="1.00" filter="url(#b8)"/>
<rect x="381.14" y="636.50" width="15.00" height="6.20" rx="2.90" fill="#000" fill-opacity="1.00" filter="url(#b8)"/>
<rect x="398.50" y="636.50" width="15.00" height="6.20" rx="2.90" fill="#000" fill-opacity="1.00" filter="url(#b8)"/>
<rect x="415.86" y="636.50" width="15.00" height="6.20" rx="2.90" fill="#000" fill-opacity="1.00" filter="url(#b8)"/>
<rect x="433.22" y="636.50" width="15.00" height="6.20" rx="2.90" fill="#000" fill-opacity="1.00" filter="url(#b8)"/>
<rect x="450.58" y="636.50" width="15.00" height="6.20" rx="2.90" fill="#000" fill-opacity="1.00" filter="url(#b8)"/>
<rect x="467.94" y="636.50" width="15.00" height="6.20" rx="2.90" fill="#000" fill-opacity="1.00" filter="url(#b8)"/>
<rect x="485.30" y="636.50" width="15.00" height="6.20" rx="2.90" fill="#000" fill-opacity="1.00" filter="url(#b8)"/>
<rect x="502.66" y="636.50" width="15.00" height="6.20" rx="2.90" fill="#000" fill-opacity="1.00" filter="url(#b8)"/>
<text x="360.50" y="661.80" font-size="8.9" fill="#080808">MIA PaCa/R tumor tissues</text></svg>
</body></html>
